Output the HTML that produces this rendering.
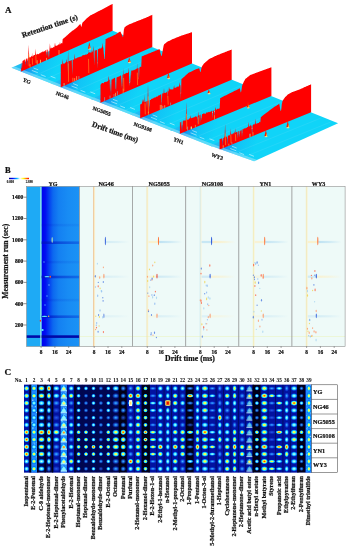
<!DOCTYPE html>
<html><head><meta charset="utf-8"><style>
html,body{margin:0;padding:0;background:#fff;width:348px;height:550px;overflow:hidden}
svg{display:block}
.b{font-family:"Liberation Serif","Times New Roman",serif;font-weight:bold;fill:#111;stroke:#111;stroke-width:0.22px}
</style></head><body>
<svg width="348" height="550" viewBox="0 0 348 550">
<defs>
<linearGradient id="cb" x1="0" x2="1" y1="0" y2="0"><stop offset="0" stop-color="#000080"/><stop offset="0.18" stop-color="#0000ff"/><stop offset="0.4" stop-color="#00c0ff"/><stop offset="0.55" stop-color="#ffffff"/><stop offset="0.72" stop-color="#ffff00"/><stop offset="0.85" stop-color="#ff8000"/><stop offset="1" stop-color="#ff0000"/></linearGradient>
<linearGradient id="sg" gradientUnits="userSpaceOnUse" x1="0" y1="0" x2="39.7" y2="15.56"><stop offset="0" stop-color="#22c8f4"/><stop offset="0.2" stop-color="#1cb8f2"/><stop offset="0.245" stop-color="#0c78e6"/><stop offset="0.4" stop-color="#149ef0"/><stop offset="0.6" stop-color="#12c4f6"/><stop offset="1" stop-color="#10d4f8"/></linearGradient>
<linearGradient id="ygb" x1="0" x2="1" y1="0" y2="0"><stop offset="0" stop-color="#0000f0"/><stop offset="0.1" stop-color="#0010f0"/><stop offset="0.2" stop-color="#0440f0"/><stop offset="0.3" stop-color="#0c68f0"/><stop offset="0.45" stop-color="#1480f2"/><stop offset="0.7" stop-color="#188cf4"/><stop offset="1" stop-color="#1a92f5"/></linearGradient><linearGradient id="hl" x1="0" x2="1" y1="0" y2="0"><stop offset="0" stop-color="#0010c0" stop-opacity="0.9"/><stop offset="0.5" stop-color="#0020c8" stop-opacity="0.6"/><stop offset="1" stop-color="#0030d0" stop-opacity="0.45"/></linearGradient>
</defs>
<text x="5" y="12.9" class="b" font-size="9">A</text>
<linearGradient id="sg0" href="#sg" gradientTransform="translate(11.5,67.8)"/>
<polygon points="11.5,67.8 53.1,84.2 139.6,41.7 103.6,27.1" fill="url(#sg0)"/>
<line x1="33.3" y1="76.4" x2="122.1" y2="36.7" stroke="#7fdcf8" stroke-width="0.5" opacity="0.35"/>
<line x1="43.3" y1="80.2" x2="132.0" y2="40.6" stroke="#7fdcf8" stroke-width="0.5" opacity="0.35"/>
<polygon points="11.5,67.8 53.1,84.2 56.3,82.8 14.7,66.4" fill="#9ae6fa" opacity="0.55"/>
<line x1="31.8" y1="70.4" x2="37.8" y2="72.7" stroke="#e8fbff" stroke-width="0.7" opacity="0.8"/>
<line x1="40.8" y1="74.7" x2="45.6" y2="76.5" stroke="#e8fbff" stroke-width="0.7" opacity="0.8"/>
<line x1="33.5" y1="68.0" x2="38.2" y2="69.8" stroke="#e8fbff" stroke-width="0.7" opacity="0.8"/>
<line x1="50.7" y1="76.3" x2="55.5" y2="78.1" stroke="#e8fbff" stroke-width="0.7" opacity="0.8"/>
<polygon points="21.1,71.6 21.1,61.3 21.6,68.3 22.0,68.3 22.5,61.1 22.9,60.8 23.4,60.2 23.8,60.4 24.3,59.6 24.8,59.4 25.2,65.4 25.7,59.4 26.1,59.4 26.6,58.3 27.0,58.4 27.5,58.5 28.0,66.8 28.4,57.7 28.9,58.0 29.3,57.6 29.8,57.0 30.2,57.5 30.7,56.9 31.2,56.5 31.6,56.0 32.1,56.5 32.5,56.6 33.0,56.5 33.5,55.4 33.9,55.1 34.4,55.1 34.8,55.1 35.3,54.6 35.7,54.8 36.2,55.1 36.7,54.2 37.1,53.8 37.6,54.1 38.0,54.4 38.5,54.0 38.9,53.9 39.4,53.6 39.9,53.1 40.3,53.3 40.8,52.5 41.2,52.0 41.7,52.5 42.1,52.2 42.6,51.3 43.1,52.0 43.5,51.7 44.0,51.1 44.4,51.6 44.9,51.0 45.3,50.1 45.8,50.4 46.3,56.1 46.7,49.7 47.2,49.5 47.6,49.8 48.1,58.3 48.5,49.6 49.0,58.1 49.5,49.3 49.9,43.3 50.4,48.3 50.8,48.6 51.3,48.2 51.8,47.4 52.2,47.7 52.7,48.0 53.1,47.5 53.6,46.7 54.0,47.4 54.5,46.6 55.0,42.3 55.4,45.7 55.9,45.8 56.3,46.0 56.8,45.4 57.2,45.2 57.7,45.6 58.2,44.5 58.6,44.5 59.1,44.4 59.5,44.5 60.0,41.7 60.4,44.4 60.9,43.4 61.4,43.2 61.8,43.0 62.3,43.6 62.7,39.1 63.2,38.7 63.6,38.3 64.1,38.0 64.6,37.6 65.0,37.2 65.5,36.8 65.9,36.4 66.4,36.0 66.8,35.6 67.3,35.2 67.8,34.7 68.2,34.3 68.7,33.9 69.1,33.5 69.6,33.1 70.1,32.7 70.5,32.3 71.0,31.9 71.4,31.6 71.9,31.2 72.3,30.8 72.8,30.5 73.3,30.2 73.7,29.9 74.2,29.6 74.6,29.3 75.1,28.9 75.5,28.6 76.0,28.3 76.5,27.8 76.9,27.4 77.4,26.9 77.8,26.5 78.3,26.0 78.7,25.6 79.2,25.1 79.7,24.6 80.1,24.1 80.6,24.5 81.0,26.4 81.5,26.8 81.9,24.7 82.4,22.7 82.9,22.3 83.3,21.8 83.8,21.4 84.2,20.9 84.7,20.5 85.2,20.0 85.6,19.5 86.1,19.1 86.5,18.6 87.0,18.2 87.4,17.8 87.9,17.4 88.4,17.0 88.8,16.7 89.3,16.3 89.7,15.9 90.2,15.6 90.6,15.3 91.1,15.1 91.6,14.9 92.0,14.6 92.5,14.4 92.9,14.1 93.4,13.9 93.8,13.7 94.3,13.4 94.8,13.2 95.2,13.0 95.7,12.7 96.1,12.5 96.6,12.3 97.0,12.0 97.5,11.8 98.0,11.6 98.4,11.3 98.9,11.1 99.3,10.9 99.8,10.6 100.2,10.4 100.7,10.1 101.2,9.9 101.6,9.7 102.1,9.4 102.5,9.2 103.0,8.9 103.5,8.7 103.9,8.5 104.4,8.2 104.8,8.0 105.3,7.7 105.7,7.5 106.2,7.2 106.7,7.0 107.1,6.8 107.6,6.5 108.0,6.3 108.5,6.0 108.9,5.8 109.4,5.6 109.9,5.3 110.3,5.1 110.8,4.8 111.2,4.6 111.7,4.4 112.1,4.1 112.6,3.9 112.6,30.7" fill="#ff0000"/>
<polygon points="28.0,63.2 28.7,44.6 29.4,63.2" fill="#ff0000"/>
<line x1="29.2" y1="66.2" x2="28.9" y2="54.0" stroke="#ffe040" stroke-width="0.4"/>
<polygon points="34.9,60.1 35.6,48.7 36.3,60.1" fill="#ff0000"/>
<line x1="36.1" y1="63.1" x2="35.8" y2="55.3" stroke="#ffe040" stroke-width="0.4"/>
<polygon points="31.4,61.7 32.1,52.7 32.8,61.7" fill="#ff0000"/>
<line x1="32.6" y1="64.7" x2="32.3" y2="58.3" stroke="#ffe040" stroke-width="0.4"/>
<line x1="30.1" y1="67.6" x2="30.1" y2="64.1" stroke="#ffd040" stroke-width="0.5"/>
<line x1="59.0" y1="54.7" x2="59.0" y2="50.1" stroke="#ffff80" stroke-width="0.5"/>
<line x1="40.5" y1="62.9" x2="40.5" y2="59.9" stroke="#ffff80" stroke-width="0.5"/>
<line x1="46.5" y1="60.3" x2="46.5" y2="57.9" stroke="#ffff80" stroke-width="0.5"/>
<line x1="37.2" y1="64.4" x2="37.2" y2="60.2" stroke="#ffff80" stroke-width="0.5"/>
<line x1="40.4" y1="63.0" x2="40.4" y2="59.7" stroke="#ffd040" stroke-width="0.5"/>
<polygon points="87.9,48.9 89.3,41.9 90.9,48.9" fill="#ff1800"/>
<polygon points="89.7,48.9 89.6,45.4 90.9,48.9" fill="#ffe030"/>
<ellipse cx="89.5" cy="49.0" rx="1.6" ry="0.6" fill="#f0ffb0" opacity="0.8"/>
<text x="26.9" y="82.80000000000001" class="b" font-size="5.4" text-anchor="middle" transform="rotate(20 26.9 80.9)">YG</text>
<linearGradient id="sg1" href="#sg" gradientTransform="translate(51.2,83.4)"/>
<polygon points="51.2,83.4 92.8,99.8 179.3,58.0 143.3,43.4" fill="url(#sg1)"/>
<line x1="73.0" y1="91.9" x2="161.8" y2="53.0" stroke="#7fdcf8" stroke-width="0.5" opacity="0.35"/>
<line x1="83.0" y1="95.8" x2="171.7" y2="56.9" stroke="#7fdcf8" stroke-width="0.5" opacity="0.35"/>
<polygon points="51.2,83.4 92.8,99.8 96.0,98.4 54.4,82.0" fill="#9ae6fa" opacity="0.55"/>
<line x1="71.5" y1="86.0" x2="77.5" y2="88.3" stroke="#e8fbff" stroke-width="0.7" opacity="0.8"/>
<line x1="80.5" y1="90.3" x2="85.3" y2="92.2" stroke="#e8fbff" stroke-width="0.7" opacity="0.8"/>
<line x1="73.2" y1="83.6" x2="77.9" y2="85.5" stroke="#e8fbff" stroke-width="0.7" opacity="0.8"/>
<line x1="90.4" y1="91.9" x2="95.2" y2="93.8" stroke="#e8fbff" stroke-width="0.7" opacity="0.8"/>
<polygon points="60.8,87.2 60.8,64.5 61.3,63.9 61.7,64.3 62.2,64.6 62.6,59.0 63.1,63.8 63.5,63.4 64.0,63.4 64.5,63.6 64.9,63.5 65.4,62.5 65.8,62.3 66.3,61.8 66.7,58.9 67.2,62.0 67.7,62.1 68.1,75.8 68.6,61.0 69.0,60.9 69.5,60.7 70.0,61.3 70.4,60.7 70.9,60.2 71.3,60.0 71.8,60.6 72.2,74.8 72.7,59.7 73.2,59.3 73.6,59.9 74.1,59.8 74.5,53.5 75.0,59.4 75.4,58.1 75.9,58.8 76.4,58.3 76.8,58.1 77.3,57.9 77.7,57.2 78.2,57.1 78.6,57.4 79.1,57.3 79.6,56.8 80.0,57.1 80.5,57.0 80.9,55.9 81.4,56.4 81.8,56.5 82.3,55.5 82.8,55.2 83.2,55.3 83.7,55.0 84.1,55.2 84.6,55.1 85.0,54.9 85.5,54.6 86.0,54.5 86.4,54.4 86.9,54.4 87.3,54.1 87.8,54.1 88.2,52.9 88.7,52.9 89.2,52.6 89.6,52.3 90.1,52.6 90.5,52.5 91.0,52.5 91.5,52.5 91.9,49.8 92.4,52.0 92.8,51.8 93.3,45.8 93.7,51.2 94.2,64.9 94.7,50.2 95.1,50.9 95.6,49.9 96.0,50.2 96.5,50.1 96.9,50.1 97.4,68.8 97.9,49.4 98.3,49.2 98.8,49.1 99.2,48.7 99.7,48.6 100.1,47.9 100.6,48.7 101.1,48.5 101.5,47.7 102.0,47.2 102.4,42.7 102.9,46.9 103.3,47.7 103.8,53.3 104.3,59.1 104.7,58.9 105.2,49.0 105.6,39.1 106.1,38.9 106.6,38.7 107.0,38.5 107.5,38.3 107.9,38.0 108.4,37.8 108.8,37.6 109.3,37.4 109.8,37.2 110.2,37.0 110.7,36.8 111.1,36.6 111.6,36.4 112.0,36.2 112.5,35.9 113.0,35.7 113.4,35.5 113.9,35.3 114.3,35.1 114.8,34.9 115.2,34.7 115.7,34.4 116.2,34.1 116.6,33.8 117.1,33.5 117.5,33.2 118.0,32.9 118.4,32.6 118.9,32.3 119.4,32.0 119.8,31.7 120.3,31.4 120.7,32.2 121.2,33.2 121.6,34.2 122.1,35.3 122.6,36.3 123.0,37.4 123.5,33.4 123.9,29.5 124.4,28.0 124.8,26.9 125.3,26.7 125.8,26.4 126.2,26.1 126.7,25.8 127.1,25.6 127.6,25.3 128.1,25.0 128.5,24.7 129.0,24.5 129.4,24.3 129.9,24.1 130.3,23.9 130.8,23.7 131.3,23.5 131.7,23.4 132.2,23.2 132.6,23.0 133.1,22.8 133.5,22.6 134.0,22.4 134.5,22.2 134.9,22.1 135.4,21.9 135.8,21.7 136.3,21.5 136.7,21.3 137.2,21.1 137.7,20.9 138.1,20.8 138.6,20.6 139.0,20.4 139.5,20.2 139.9,20.1 140.4,19.9 140.9,19.7 141.3,19.5 141.8,19.3 142.2,19.2 142.7,19.0 143.2,18.8 143.6,18.6 144.1,18.4 144.5,18.3 145.0,18.1 145.4,17.9 145.9,17.7 146.4,17.5 146.8,17.3 147.3,17.1 147.7,16.9 148.2,16.7 148.6,16.5 149.1,16.2 149.6,16.0 150.0,15.8 150.5,15.6 150.9,15.4 151.4,15.2 151.8,14.9 152.3,14.7 152.3,47.0" fill="#ff0000"/>
<polygon points="67.4,78.9 68.1,49.9 68.8,78.9" fill="#ff0000"/>
<line x1="68.6" y1="81.9" x2="68.3" y2="63.5" stroke="#ffe040" stroke-width="0.4"/>
<polygon points="87.5,70.1 88.2,48.1 89.0,70.1" fill="#ff0000"/>
<line x1="88.8" y1="73.1" x2="88.5" y2="58.9" stroke="#ffe040" stroke-width="0.4"/>
<line x1="76.6" y1="80.2" x2="76.6" y2="76.2" stroke="#ffff80" stroke-width="0.5"/>
<line x1="72.9" y1="81.8" x2="72.9" y2="77.8" stroke="#ffd040" stroke-width="0.5"/>
<line x1="64.3" y1="85.6" x2="64.3" y2="83.2" stroke="#ffd040" stroke-width="0.5"/>
<line x1="78.9" y1="79.2" x2="78.9" y2="76.1" stroke="#60e0ff" stroke-width="0.5"/>
<line x1="74.7" y1="81.1" x2="74.7" y2="78.1" stroke="#ffff80" stroke-width="0.5"/>
<line x1="63.9" y1="85.8" x2="63.9" y2="83.2" stroke="#60e0ff" stroke-width="0.5"/>
<polygon points="127.8,62.5 129.2,57.0 130.8,62.5" fill="#ff1800"/>
<polygon points="129.6,62.5 129.5,59.8 130.8,62.5" fill="#ffe030"/>
<ellipse cx="129.4" cy="62.6" rx="1.6" ry="0.6" fill="#f0ffb0" opacity="0.8"/>
<text x="62.4" y="97.2" class="b" font-size="5.4" text-anchor="middle" transform="rotate(20 62.4 95.3)">NG46</text>
<linearGradient id="sg2" href="#sg" gradientTransform="translate(90.9,98.9)"/>
<polygon points="90.9,98.9 132.5,115.3 219.0,74.4 183.0,59.8" fill="url(#sg2)"/>
<line x1="112.7" y1="107.5" x2="201.5" y2="69.3" stroke="#7fdcf8" stroke-width="0.5" opacity="0.35"/>
<line x1="122.7" y1="111.4" x2="211.4" y2="73.2" stroke="#7fdcf8" stroke-width="0.5" opacity="0.35"/>
<polygon points="90.9,98.9 132.5,115.3 135.7,113.9 94.1,97.5" fill="#9ae6fa" opacity="0.55"/>
<line x1="111.2" y1="101.6" x2="117.2" y2="103.9" stroke="#e8fbff" stroke-width="0.7" opacity="0.8"/>
<line x1="120.2" y1="105.9" x2="125.0" y2="107.8" stroke="#e8fbff" stroke-width="0.7" opacity="0.8"/>
<line x1="112.9" y1="99.3" x2="117.6" y2="101.1" stroke="#e8fbff" stroke-width="0.7" opacity="0.8"/>
<line x1="130.1" y1="107.5" x2="134.9" y2="109.4" stroke="#e8fbff" stroke-width="0.7" opacity="0.8"/>
<polygon points="100.5,102.7 100.5,84.6 101.0,84.5 101.4,83.6 101.9,83.3 102.3,83.1 102.8,83.1 103.2,83.3 103.7,83.3 104.2,82.2 104.6,82.0 105.1,82.1 105.5,81.8 106.0,82.1 106.4,82.1 106.9,81.2 107.4,81.4 107.8,81.1 108.3,80.6 108.7,75.6 109.2,80.1 109.7,79.7 110.1,92.8 110.6,79.3 111.0,96.2 111.5,79.5 111.9,79.6 112.4,79.6 112.9,78.4 113.3,78.7 113.8,78.5 114.2,77.9 114.7,77.8 115.1,77.7 115.6,88.3 116.1,90.2 116.5,77.7 117.0,77.3 117.4,76.7 117.9,77.2 118.3,76.6 118.8,76.8 119.3,76.2 119.7,76.2 120.2,75.4 120.6,75.5 121.1,75.9 121.5,88.6 122.0,74.4 122.5,74.9 122.9,90.6 123.4,74.1 123.8,74.4 124.3,73.8 124.7,74.3 125.2,73.6 125.7,73.5 126.1,72.7 126.6,73.1 127.0,72.9 127.5,73.1 128.0,72.6 128.4,72.3 128.9,67.4 129.3,86.0 129.8,82.1 130.2,71.1 130.7,83.7 131.2,70.9 131.6,70.3 132.1,70.9 132.5,70.1 133.0,70.8 133.4,70.2 133.9,69.8 134.4,70.2 134.8,69.6 135.3,69.7 135.7,69.1 136.2,68.8 136.6,68.8 137.1,68.8 137.6,68.1 138.0,68.4 138.5,67.7 138.9,81.0 139.4,67.1 139.8,67.4 140.3,66.8 140.8,66.8 141.2,67.1 141.7,56.4 142.1,56.2 142.6,56.0 143.0,55.9 143.5,55.7 144.0,55.5 144.4,55.3 144.9,55.1 145.3,54.9 145.8,54.7 146.2,54.5 146.7,54.4 147.2,54.2 147.6,54.0 148.1,53.8 148.5,53.6 149.0,53.4 149.5,53.2 149.9,53.0 150.4,52.9 150.8,52.7 151.3,52.5 151.7,52.3 152.2,52.1 152.7,51.9 153.1,51.7 153.6,51.6 154.0,51.4 154.5,51.2 154.9,51.0 155.4,50.8 155.9,50.6 156.3,50.4 156.8,50.2 157.2,50.1 157.7,49.9 158.1,49.7 158.6,49.5 159.1,49.3 159.5,49.1 160.0,51.0 160.4,52.9 160.9,54.4 161.3,55.9 161.8,55.7 162.3,53.0 162.7,50.4 163.2,48.0 163.6,45.8 164.1,44.3 164.6,43.9 165.0,43.6 165.5,43.2 165.9,42.9 166.4,42.5 166.8,42.1 167.3,41.8 167.8,41.6 168.2,41.3 168.7,41.1 169.1,40.9 169.6,40.7 170.0,40.4 170.5,40.2 171.0,40.0 171.4,39.8 171.9,39.6 172.3,39.3 172.8,39.1 173.2,38.9 173.7,38.8 174.2,38.6 174.6,38.4 175.1,38.2 175.5,38.0 176.0,37.8 176.4,37.6 176.9,37.5 177.4,37.3 177.8,37.1 178.3,36.9 178.7,36.7 179.2,36.5 179.6,36.3 180.1,36.2 180.6,36.0 181.0,35.8 181.5,35.6 181.9,35.5 182.4,35.3 182.9,35.2 183.3,35.0 183.8,34.9 184.2,34.7 184.7,34.6 185.1,34.4 185.6,34.3 186.1,34.1 186.5,34.0 187.0,33.8 187.4,33.7 187.9,33.5 188.3,33.4 188.8,33.2 189.3,33.1 189.7,32.9 190.2,32.8 190.6,32.6 191.1,32.5 191.5,32.3 192.0,32.2 192.0,63.4" fill="#ff0000"/>
<polygon points="122.7,87.9 123.4,67.9 124.1,87.9" fill="#ff0000"/>
<line x1="123.9" y1="90.9" x2="123.6" y2="77.9" stroke="#ffe040" stroke-width="0.4"/>
<polygon points="136.4,82.0 137.1,63.0 137.8,82.0" fill="#ff0000"/>
<line x1="137.6" y1="85.0" x2="137.3" y2="72.6" stroke="#ffe040" stroke-width="0.4"/>
<line x1="114.0" y1="96.9" x2="114.0" y2="94.1" stroke="#60e0ff" stroke-width="0.5"/>
<line x1="123.2" y1="93.0" x2="123.2" y2="88.7" stroke="#ffd040" stroke-width="0.5"/>
<line x1="117.4" y1="95.4" x2="117.4" y2="91.2" stroke="#60e0ff" stroke-width="0.5"/>
<line x1="110.0" y1="98.6" x2="110.0" y2="95.6" stroke="#60e0ff" stroke-width="0.5"/>
<line x1="104.6" y1="101.0" x2="104.6" y2="97.2" stroke="#60e0ff" stroke-width="0.5"/>
<line x1="115.5" y1="96.3" x2="115.5" y2="92.8" stroke="#ffff80" stroke-width="0.5"/>
<polygon points="167.0,78.5 168.4,72.5 170.0,78.5" fill="#ff1800"/>
<polygon points="168.8,78.5 168.7,75.5 170.0,78.5" fill="#ffe030"/>
<ellipse cx="168.6" cy="78.6" rx="1.6" ry="0.6" fill="#f0ffb0" opacity="0.8"/>
<text x="101.9" y="113.0" class="b" font-size="5.4" text-anchor="middle" transform="rotate(20 101.9 111.1)">NG5055</text>
<linearGradient id="sg3" href="#sg" gradientTransform="translate(130.6,114.5)"/>
<polygon points="130.6,114.5 172.2,130.9 258.7,90.7 222.7,76.1" fill="url(#sg3)"/>
<line x1="152.4" y1="123.0" x2="241.2" y2="85.6" stroke="#7fdcf8" stroke-width="0.5" opacity="0.35"/>
<line x1="162.4" y1="126.9" x2="251.1" y2="89.5" stroke="#7fdcf8" stroke-width="0.5" opacity="0.35"/>
<polygon points="130.6,114.5 172.2,130.9 175.4,129.5 133.8,113.1" fill="#9ae6fa" opacity="0.55"/>
<line x1="150.9" y1="117.2" x2="156.9" y2="119.6" stroke="#e8fbff" stroke-width="0.7" opacity="0.8"/>
<line x1="159.9" y1="121.5" x2="164.7" y2="123.4" stroke="#e8fbff" stroke-width="0.7" opacity="0.8"/>
<line x1="152.6" y1="114.9" x2="157.3" y2="116.8" stroke="#e8fbff" stroke-width="0.7" opacity="0.8"/>
<line x1="169.8" y1="123.1" x2="174.6" y2="125.0" stroke="#e8fbff" stroke-width="0.7" opacity="0.8"/>
<polygon points="140.2,118.3 140.2,104.1 140.7,104.4 141.1,104.2 141.6,103.7 142.0,103.0 142.5,98.9 142.9,102.5 143.4,99.1 143.9,102.0 144.3,101.9 144.8,102.4 145.2,102.3 145.7,101.5 146.1,101.2 146.6,100.9 147.1,110.0 147.5,101.2 148.0,100.4 148.4,100.8 148.9,100.0 149.4,110.5 149.8,99.7 150.3,99.9 150.7,99.9 151.2,99.2 151.6,98.7 152.1,98.7 152.6,98.8 153.0,98.0 153.5,98.6 153.9,97.6 154.4,97.9 154.8,96.9 155.3,97.7 155.8,97.1 156.2,97.1 156.7,96.2 157.1,96.7 157.6,96.3 158.0,96.2 158.5,95.4 159.0,94.9 159.4,95.6 159.9,95.1 160.3,94.3 160.8,94.7 161.2,93.8 161.7,105.8 162.2,93.5 162.6,93.4 163.1,93.0 163.5,93.7 164.0,88.1 164.4,93.0 164.9,92.9 165.4,93.0 165.8,92.4 166.3,92.5 166.7,92.1 167.2,91.2 167.7,102.6 168.1,91.3 168.6,91.3 169.0,86.6 169.5,90.1 169.9,88.6 170.4,89.6 170.9,89.6 171.3,89.8 171.8,88.9 172.2,89.5 172.7,89.2 173.1,89.4 173.6,88.1 174.1,84.9 174.5,88.2 175.0,87.4 175.4,88.0 175.9,87.5 176.3,87.6 176.8,86.8 177.3,86.5 177.7,86.8 178.2,86.6 178.6,86.7 179.1,85.7 179.5,82.1 180.0,85.7 180.5,84.9 180.9,99.0 181.4,79.2 181.8,78.8 182.3,78.4 182.7,78.0 183.2,77.6 183.7,77.2 184.1,76.8 184.6,76.4 185.0,75.9 185.5,75.5 186.0,75.1 186.4,74.7 186.9,74.3 187.3,73.9 187.8,73.5 188.2,73.1 188.7,72.8 189.2,72.6 189.6,72.3 190.1,72.1 190.5,71.9 191.0,71.7 191.4,71.4 191.9,71.2 192.4,71.0 192.8,70.8 193.3,70.5 193.7,70.3 194.2,70.1 194.6,69.9 195.1,69.6 195.6,69.5 196.0,69.3 196.5,69.1 196.9,69.0 197.4,68.8 197.8,68.7 198.3,68.5 198.8,68.3 199.2,68.2 199.7,70.0 200.1,71.8 200.6,72.0 201.0,69.9 201.5,67.7 202.0,66.4 202.4,65.8 202.9,65.1 203.3,64.4 203.8,63.8 204.2,63.3 204.7,62.9 205.2,62.5 205.6,62.1 206.1,61.7 206.5,61.3 207.0,60.9 207.5,60.5 207.9,60.1 208.4,59.7 208.8,59.3 209.3,59.0 209.7,58.8 210.2,58.6 210.7,58.3 211.1,58.1 211.6,57.9 212.0,57.7 212.5,57.4 212.9,57.2 213.4,57.0 213.9,56.8 214.3,56.5 214.8,56.3 215.2,56.1 215.7,55.9 216.1,55.7 216.6,55.5 217.1,55.3 217.5,55.1 218.0,54.9 218.4,54.7 218.9,54.6 219.3,54.4 219.8,54.2 220.3,54.0 220.7,53.8 221.2,53.6 221.6,53.5 222.1,53.3 222.6,53.1 223.0,52.9 223.5,52.7 223.9,52.6 224.4,52.4 224.8,52.2 225.3,52.0 225.8,51.8 226.2,51.7 226.7,51.5 227.1,51.3 227.6,51.1 228.0,51.0 228.5,50.8 229.0,50.6 229.4,50.5 229.9,50.3 230.3,50.1 230.8,49.9 231.2,49.8 231.7,49.6 231.7,79.7" fill="#ff0000"/>
<polygon points="144.1,111.4 144.8,94.4 145.5,111.4" fill="#ff0000"/>
<line x1="145.3" y1="114.4" x2="145.0" y2="103.2" stroke="#ffe040" stroke-width="0.4"/>
<polygon points="147.3,110.0 148.0,84.0 148.7,110.0" fill="#ff0000"/>
<line x1="148.5" y1="113.0" x2="148.2" y2="96.4" stroke="#ffe040" stroke-width="0.4"/>
<polygon points="167.0,101.7 167.7,88.7 168.3,101.7" fill="#ff0000"/>
<line x1="168.2" y1="104.7" x2="167.8" y2="95.9" stroke="#ffe040" stroke-width="0.4"/>
<line x1="160.3" y1="109.8" x2="160.3" y2="104.9" stroke="#ffff80" stroke-width="0.5"/>
<line x1="148.4" y1="114.8" x2="148.4" y2="111.6" stroke="#ffd040" stroke-width="0.5"/>
<line x1="164.7" y1="107.9" x2="164.7" y2="105.2" stroke="#ffff80" stroke-width="0.5"/>
<line x1="161.7" y1="109.2" x2="161.7" y2="104.9" stroke="#ffff80" stroke-width="0.5"/>
<line x1="170.6" y1="105.5" x2="170.6" y2="102.6" stroke="#60e0ff" stroke-width="0.5"/>
<line x1="162.8" y1="108.8" x2="162.8" y2="106.0" stroke="#60e0ff" stroke-width="0.5"/>
<polygon points="207.4,93.6 208.8,89.6 210.4,93.6" fill="#ff1800"/>
<polygon points="209.2,93.6 209.1,91.6 210.4,93.6" fill="#ffe030"/>
<ellipse cx="209.0" cy="93.7" rx="1.6" ry="0.6" fill="#f0ffb0" opacity="0.8"/>
<text x="142.8" y="128.9" class="b" font-size="5.4" text-anchor="middle" transform="rotate(20 142.8 127)">NG9108</text>
<linearGradient id="sg4" href="#sg" gradientTransform="translate(170.3,130.0)"/>
<polygon points="170.3,130.0 211.9,146.4 298.4,107.0 262.4,92.4" fill="url(#sg4)"/>
<line x1="192.1" y1="138.6" x2="280.9" y2="101.9" stroke="#7fdcf8" stroke-width="0.5" opacity="0.35"/>
<line x1="202.1" y1="142.5" x2="290.8" y2="105.8" stroke="#7fdcf8" stroke-width="0.5" opacity="0.35"/>
<polygon points="170.3,130.0 211.9,146.4 215.1,145.1 173.5,128.7" fill="#9ae6fa" opacity="0.55"/>
<line x1="190.6" y1="132.8" x2="196.6" y2="135.2" stroke="#e8fbff" stroke-width="0.7" opacity="0.8"/>
<line x1="199.6" y1="137.1" x2="204.4" y2="139.0" stroke="#e8fbff" stroke-width="0.7" opacity="0.8"/>
<line x1="192.3" y1="130.5" x2="197.0" y2="132.4" stroke="#e8fbff" stroke-width="0.7" opacity="0.8"/>
<line x1="209.5" y1="138.8" x2="214.3" y2="140.6" stroke="#e8fbff" stroke-width="0.7" opacity="0.8"/>
<polygon points="179.9,133.8 179.9,122.3 180.4,122.3 180.8,122.0 181.3,131.1 181.7,121.7 182.2,121.1 182.6,131.5 183.1,120.5 183.6,120.8 184.0,120.2 184.5,121.0 184.9,119.9 185.4,120.7 185.8,120.4 186.3,119.5 186.8,120.3 187.2,119.3 187.7,119.9 188.1,119.7 188.6,119.6 189.1,118.4 189.5,118.3 190.0,118.7 190.4,114.9 190.9,118.3 191.3,117.7 191.8,118.4 192.3,117.6 192.7,117.9 193.2,117.3 193.6,117.8 194.1,116.7 194.5,117.6 195.0,116.5 195.5,116.8 195.9,116.0 196.4,116.8 196.8,116.7 197.3,116.2 197.7,124.9 198.2,115.4 198.7,115.5 199.1,115.1 199.6,115.4 200.0,123.2 200.5,114.6 200.9,114.4 201.4,120.5 201.9,114.7 202.3,114.1 202.8,113.9 203.2,113.5 203.7,113.4 204.1,113.5 204.6,113.6 205.1,113.9 205.5,113.6 206.0,113.5 206.4,112.5 206.9,112.3 207.3,112.4 207.8,112.6 208.3,112.3 208.7,111.8 209.2,112.2 209.6,111.9 210.1,111.6 210.6,112.1 211.0,111.4 211.5,111.0 211.9,110.6 212.4,118.3 212.8,110.8 213.3,110.5 213.8,110.9 214.2,109.7 214.7,116.0 215.1,109.4 215.6,107.1 216.0,109.4 216.5,109.9 217.0,108.8 217.4,108.7 217.9,108.7 218.3,109.1 218.8,108.5 219.2,108.7 219.7,107.8 220.2,98.1 220.6,97.9 221.1,97.7 221.5,97.4 222.0,97.2 222.4,97.0 222.9,96.8 223.4,96.5 223.8,96.3 224.3,96.1 224.7,95.8 225.2,95.6 225.7,95.4 226.1,95.2 226.6,94.9 227.0,94.7 227.5,94.5 227.9,94.2 228.4,94.0 228.9,93.8 229.3,93.6 229.8,93.3 230.2,93.1 230.7,92.9 231.1,92.6 231.6,92.4 232.1,92.2 232.5,92.0 233.0,91.7 233.4,91.5 233.9,91.3 234.3,91.1 234.8,90.8 235.3,90.6 235.7,90.4 236.2,90.2 236.6,89.9 237.1,89.7 237.5,89.5 238.0,89.3 238.5,89.0 238.9,88.8 239.4,88.5 239.8,88.2 240.3,90.3 240.7,92.4 241.2,91.4 241.7,88.6 242.1,85.7 242.6,84.4 243.0,83.5 243.5,82.5 243.9,81.6 244.4,80.7 244.9,79.8 245.3,78.9 245.8,78.6 246.2,78.2 246.7,77.9 247.2,77.5 247.6,77.1 248.1,76.8 248.5,76.4 249.0,76.0 249.4,75.7 249.9,75.3 250.4,75.0 250.8,74.8 251.3,74.7 251.7,74.5 252.2,74.3 252.6,74.2 253.1,74.0 253.6,73.8 254.0,73.7 254.5,73.5 254.9,73.3 255.4,73.1 255.8,73.0 256.3,72.8 256.8,72.6 257.2,72.5 257.7,72.3 258.1,72.1 258.6,72.0 259.0,71.8 259.5,71.6 260.0,71.5 260.4,71.3 260.9,71.1 261.3,71.0 261.8,70.8 262.2,70.6 262.7,70.5 263.2,70.3 263.6,70.1 264.1,70.0 264.5,69.8 265.0,69.6 265.5,69.5 265.9,69.3 266.4,69.1 266.8,69.0 267.3,68.8 267.7,68.6 268.2,68.5 268.7,68.3 269.1,68.1 269.6,68.0 270.0,67.8 270.5,67.6 270.9,67.5 271.4,67.3 271.4,96.0" fill="#ff0000"/>
<polygon points="185.6,126.2 186.3,102.2 187.0,126.2" fill="#ff0000"/>
<line x1="186.8" y1="129.2" x2="186.5" y2="113.8" stroke="#ffe040" stroke-width="0.4"/>
<polygon points="197.5,121.3 198.2,111.3 198.9,121.3" fill="#ff0000"/>
<line x1="198.7" y1="124.3" x2="198.4" y2="117.3" stroke="#ffe040" stroke-width="0.4"/>
<line x1="191.0" y1="129.2" x2="191.0" y2="126.6" stroke="#60e0ff" stroke-width="0.5"/>
<line x1="191.4" y1="129.1" x2="191.4" y2="126.4" stroke="#ffff80" stroke-width="0.5"/>
<line x1="195.4" y1="127.5" x2="195.4" y2="124.9" stroke="#ffd040" stroke-width="0.5"/>
<line x1="187.6" y1="130.6" x2="187.6" y2="126.6" stroke="#60e0ff" stroke-width="0.5"/>
<line x1="214.5" y1="119.5" x2="214.5" y2="115.2" stroke="#ffd040" stroke-width="0.5"/>
<line x1="191.4" y1="129.1" x2="191.4" y2="126.9" stroke="#ffff80" stroke-width="0.5"/>
<polygon points="246.6,107.7 248.0,101.2 249.6,107.7" fill="#ff1800"/>
<polygon points="248.4,107.7 248.3,104.5 249.6,107.7" fill="#ffe030"/>
<ellipse cx="248.2" cy="107.8" rx="1.6" ry="0.6" fill="#f0ffb0" opacity="0.8"/>
<text x="178.5" y="142.70000000000002" class="b" font-size="5.4" text-anchor="middle" transform="rotate(20 178.5 140.8)">YN1</text>
<linearGradient id="sg5" href="#sg" gradientTransform="translate(210.0,145.6)"/>
<polygon points="210.0,145.6 254.1,161.2 338.1,123.3 302.1,108.7" fill="url(#sg5)"/>
<line x1="231.8" y1="154.2" x2="320.6" y2="118.2" stroke="#7fdcf8" stroke-width="0.5" opacity="0.35"/>
<line x1="241.8" y1="158.0" x2="330.5" y2="122.1" stroke="#7fdcf8" stroke-width="0.5" opacity="0.35"/>
<polygon points="210.0,145.6 254.1,161.2 257.3,159.9 213.2,144.3" fill="#9ae6fa" opacity="0.55"/>
<line x1="230.3" y1="148.5" x2="236.3" y2="150.8" stroke="#e8fbff" stroke-width="0.7" opacity="0.8"/>
<line x1="239.3" y1="152.7" x2="244.1" y2="154.6" stroke="#e8fbff" stroke-width="0.7" opacity="0.8"/>
<line x1="232.0" y1="146.2" x2="236.7" y2="148.1" stroke="#e8fbff" stroke-width="0.7" opacity="0.8"/>
<line x1="249.2" y1="154.4" x2="254.0" y2="156.3" stroke="#e8fbff" stroke-width="0.7" opacity="0.8"/>
<polygon points="219.6,149.4 219.6,139.0 220.1,139.3 220.5,138.8 221.0,139.1 221.4,138.2 221.9,138.6 222.3,138.4 222.8,146.3 223.3,137.7 223.7,137.9 224.2,137.7 224.6,136.8 225.1,136.6 225.5,136.5 226.0,136.9 226.5,136.6 226.9,136.8 227.4,145.0 227.8,135.8 228.3,135.6 228.8,135.6 229.2,135.7 229.7,134.7 230.1,135.5 230.6,134.4 231.0,135.0 231.5,134.1 232.0,133.7 232.4,134.4 232.9,133.2 233.3,133.4 233.8,133.3 234.2,131.3 234.7,133.5 235.2,133.1 235.6,133.0 236.1,132.1 236.5,132.2 237.0,131.8 237.4,131.8 237.9,138.7 238.4,130.8 238.8,131.2 239.3,131.1 239.7,137.6 240.2,130.9 240.6,130.6 241.1,130.6 241.6,129.5 242.0,137.0 242.5,129.4 242.9,128.9 243.4,129.4 243.8,128.5 244.3,128.8 244.8,128.1 245.2,128.8 245.7,127.7 246.1,128.1 246.6,128.0 247.0,127.1 247.5,127.0 248.0,127.3 248.4,121.8 248.9,127.1 249.3,126.3 249.8,126.3 250.3,124.2 250.7,125.9 251.2,125.3 251.6,126.2 252.1,134.9 252.5,125.8 253.0,124.7 253.5,124.3 253.9,124.5 254.4,124.2 254.8,124.4 255.3,118.6 255.7,123.4 256.2,124.2 256.7,123.3 257.1,123.7 257.6,122.9 258.0,123.1 258.5,122.9 258.9,123.0 259.4,121.8 259.9,122.0 260.3,122.2 260.8,117.2 261.2,116.9 261.7,116.5 262.1,116.1 262.6,115.7 263.1,115.3 263.5,115.0 264.0,114.6 264.4,114.3 264.9,113.9 265.4,113.6 265.8,113.2 266.3,112.9 266.7,112.6 267.2,112.2 267.6,111.9 268.1,111.5 268.6,111.2 269.0,110.8 269.5,110.5 269.9,110.1 270.4,109.8 270.8,109.5 271.3,109.1 271.8,108.8 272.2,108.4 272.7,108.1 273.1,107.7 273.6,107.4 274.0,107.1 274.5,106.8 275.0,106.6 275.4,106.3 275.9,106.0 276.3,105.7 276.8,105.4 277.2,105.1 277.7,104.9 278.2,104.6 278.6,104.3 279.1,103.4 279.5,104.9 280.0,108.0 280.4,110.2 280.9,111.2 281.4,108.2 281.8,104.2 282.3,101.9 282.7,100.6 283.2,100.0 283.6,99.3 284.1,98.6 284.6,98.0 285.0,97.3 285.5,96.8 285.9,96.4 286.4,95.9 286.9,95.4 287.3,95.0 287.8,94.6 288.2,94.3 288.7,94.0 289.1,93.8 289.6,93.5 290.1,93.3 290.5,93.0 291.0,92.8 291.4,92.5 291.9,92.3 292.3,92.0 292.8,91.9 293.3,91.7 293.7,91.5 294.2,91.4 294.6,91.2 295.1,91.0 295.5,90.9 296.0,90.7 296.5,90.5 296.9,90.4 297.4,90.2 297.8,90.0 298.3,89.9 298.7,89.7 299.2,89.5 299.7,89.4 300.1,89.2 300.6,89.0 301.0,88.8 301.5,88.6 301.9,88.4 302.4,88.2 302.9,88.0 303.3,87.8 303.8,87.5 304.2,87.3 304.7,87.1 305.2,86.9 305.6,86.7 306.1,86.5 306.5,86.3 307.0,86.1 307.4,85.9 307.9,85.7 308.4,85.5 308.8,85.3 309.3,85.1 309.7,84.9 310.2,84.7 310.6,84.4 311.1,84.2 311.1,112.3" fill="#ff0000"/>
<polygon points="224.4,142.2 225.1,124.2 225.8,142.2" fill="#ff0000"/>
<line x1="225.6" y1="145.2" x2="225.3" y2="133.4" stroke="#ffe040" stroke-width="0.4"/>
<polygon points="229.9,140.0 230.6,128.0 231.3,140.0" fill="#ff0000"/>
<line x1="231.1" y1="143.0" x2="230.8" y2="134.8" stroke="#ffe040" stroke-width="0.4"/>
<polygon points="234.5,138.1 235.2,128.1 235.9,138.1" fill="#ff0000"/>
<line x1="235.7" y1="141.1" x2="235.4" y2="134.1" stroke="#ffe040" stroke-width="0.4"/>
<line x1="250.3" y1="137.0" x2="250.3" y2="133.7" stroke="#ffd040" stroke-width="0.5"/>
<line x1="249.7" y1="137.2" x2="249.7" y2="133.8" stroke="#60e0ff" stroke-width="0.5"/>
<line x1="223.2" y1="147.9" x2="223.2" y2="145.3" stroke="#ffff80" stroke-width="0.5"/>
<line x1="253.0" y1="135.9" x2="253.0" y2="132.2" stroke="#ffd040" stroke-width="0.5"/>
<line x1="231.9" y1="144.4" x2="231.9" y2="142.4" stroke="#60e0ff" stroke-width="0.5"/>
<line x1="228.8" y1="145.7" x2="228.8" y2="143.7" stroke="#ffd040" stroke-width="0.5"/>
<polygon points="286.3,127.6 287.7,120.6 289.3,127.6" fill="#ff1800"/>
<polygon points="288.1,127.6 288.0,124.2 289.3,127.6" fill="#ffe030"/>
<ellipse cx="287.9" cy="127.7" rx="1.6" ry="0.6" fill="#f0ffb0" opacity="0.8"/>
<polygon points="264.4,136.5 265.8,130.0 267.4,136.5" fill="#ff1800"/>
<polygon points="266.2,136.5 266.1,133.3 267.4,136.5" fill="#ffe030"/>
<ellipse cx="266.0" cy="136.6" rx="1.6" ry="0.6" fill="#f0ffb0" opacity="0.8"/>
<text x="217.2" y="158.3" class="b" font-size="5.4" text-anchor="middle" transform="rotate(20 217.2 156.4)">WY3</text>
<text x="49.8" y="28.6" class="b" font-size="7.7" text-anchor="middle" transform="rotate(-18.5 49.8 26.4)">Retention time (s)</text>
<text x="115.2" y="134.6" class="b" font-size="7.6" text-anchor="middle" transform="rotate(19.5 115.2 132.2)">Drift time (ms)</text>
<text x="5" y="173" class="b" font-size="8.5">B</text>
<rect x="9" y="177.8" width="20" height="1.4" fill="url(#cb)"/>
<text x="10.4" y="182.6" class="b" font-size="3.2" text-anchor="middle" style="stroke-width:0.1px">0.000</text>
<text x="29.3" y="182.6" class="b" font-size="3.2" text-anchor="middle" style="stroke-width:0.1px">2.890</text>
<rect x="26.5" y="186.5" width="53.1" height="160.0" fill="#1eaaf5"/>
<rect x="41.6" y="186.5" width="38.0" height="160.0" fill="url(#ygb)"/>
<rect x="26.5" y="335.3" width="53.1" height="2.6" fill="#0008a8"/>
<rect x="40.3" y="186.5" width="1.1" height="160.0" fill="#a8f0e0"/>
<rect x="41.6" y="241.4" width="38.0" height="2.6" fill="url(#hl)" opacity="0.85"/>
<rect x="41.6" y="275.7" width="38.0" height="2.6" fill="url(#hl)" opacity="0.85"/>
<rect x="41.6" y="315.40000000000003" width="38.0" height="2.6" fill="url(#hl)" opacity="0.85"/>
<rect x="41.6" y="260.8" width="38.0" height="2.6" fill="url(#hl)" opacity="0.21"/>
<rect x="41.6" y="298.8" width="38.0" height="2.6" fill="url(#hl)" opacity="0.21"/>
<rect x="41.6" y="223.8" width="38.0" height="2.6" fill="url(#hl)" opacity="0.17"/>
<ellipse cx="52.2" cy="240" rx="0.7" ry="3" fill="#a0d8c0"/>
<ellipse cx="50.2" cy="276.7" rx="0.8" ry="1" fill="#ff6020"/>
<ellipse cx="47" cy="276.7" rx="2.5" ry="0.6" fill="#60e0ff"/>
<ellipse cx="40.4" cy="320.7" rx="0.7" ry="1" fill="#ff3020"/>
<ellipse cx="44.5" cy="316.3" rx="3" ry="0.6" fill="#60f0ff"/>
<ellipse cx="48.7" cy="316.3" rx="0.7" ry="0.7" fill="#ffc040"/>
<ellipse cx="42.5" cy="330" rx="1.2" ry="1" fill="#60f0ff"/>
<ellipse cx="47" cy="296" rx="0.6" ry="1" fill="#4090ff"/>
<ellipse cx="45" cy="305" rx="0.6" ry="1" fill="#4090ff"/>
<ellipse cx="49" cy="285" rx="0.6" ry="1" fill="#60a0ff"/>
<ellipse cx="44" cy="262" rx="0.6" ry="1" fill="#4080ff"/>
<rect x="26.5" y="186.5" width="53.1" height="160.0" fill="none" stroke="#909090" stroke-width="0.6"/>
<text x="53.0" y="186.2" class="b" font-size="6.1" text-anchor="middle">YG</text>
<line x1="41.1" y1="346.5" x2="41.1" y2="347.8" stroke="#222" stroke-width="0.5"/>
<text x="41.1" y="353.9" class="b" font-size="5.3" text-anchor="middle">8</text>
<line x1="54.9" y1="346.5" x2="54.9" y2="347.8" stroke="#222" stroke-width="0.5"/>
<text x="54.9" y="353.9" class="b" font-size="5.3" text-anchor="middle">16</text>
<line x1="68.7" y1="346.5" x2="68.7" y2="347.8" stroke="#222" stroke-width="0.5"/>
<text x="68.7" y="353.9" class="b" font-size="5.3" text-anchor="middle">24</text>
<rect x="79.6" y="186.5" width="53.1" height="160.0" fill="#eefaf8"/>
<rect x="93.5" y="186.5" width="0.7" height="160.0" fill="#f0a050"/>
<rect x="94.2" y="186.5" width="0.9" height="160.0" fill="#fff0c0" opacity="0.7"/>
<rect x="79.6" y="336.2" width="53.1" height="0.7" fill="#e8f0a0" opacity="0.5"/>
<linearGradient id="bf1_242" x1="0" x2="1" y1="0" y2="0"><stop offset="0" stop-color="#b8dff2" stop-opacity="0.5"/><stop offset="0.5" stop-color="#b8dff2" stop-opacity="0.30"/><stop offset="1" stop-color="#b8dff2" stop-opacity="0"/></linearGradient>
<rect x="106.0" y="240.9" width="23.3" height="2.2" fill="url(#bf1_242)"/>
<ellipse cx="105.4" cy="241" rx="0.55" ry="4.2" fill="#2050d8" opacity="0.85"/>
<rect x="95.4" y="275.59999999999997" width="8.0" height="2.2" fill="#fdeec0" opacity="0.32"/>
<linearGradient id="bf1_276" x1="0" x2="1" y1="0" y2="0"><stop offset="0" stop-color="#b8dff2" stop-opacity="0.4"/><stop offset="0.5" stop-color="#b8dff2" stop-opacity="0.24"/><stop offset="1" stop-color="#b8dff2" stop-opacity="0"/></linearGradient>
<rect x="104.5" y="275.59999999999997" width="24.8" height="2.2" fill="url(#bf1_276)"/>
<ellipse cx="103.9" cy="276.2" rx="0.55" ry="2.4" fill="#ff7030" opacity="0.75"/>
<linearGradient id="bf1_316" x1="0" x2="1" y1="0" y2="0"><stop offset="0" stop-color="#b8dff2" stop-opacity="0.3"/><stop offset="0.5" stop-color="#b8dff2" stop-opacity="0.18"/><stop offset="1" stop-color="#b8dff2" stop-opacity="0"/></linearGradient>
<rect x="104.5" y="315.2" width="24.8" height="2.2" fill="url(#bf1_316)"/>
<ellipse cx="103.9" cy="315.8" rx="0.55" ry="2.4" fill="#2050d8" opacity="0.65"/>
<ellipse cx="99.7" cy="277.6" rx="0.6" ry="1.3" fill="#ff9060" opacity="0.75"/>
<ellipse cx="98.6" cy="315.1" rx="0.6" ry="1.1" fill="#4070e0" opacity="0.75"/>
<ellipse cx="103.1" cy="300.8" rx="0.6" ry="0.9" fill="#4070e0" opacity="0.75"/>
<ellipse cx="98.3" cy="282.4" rx="0.6" ry="0.7" fill="#4070e0" opacity="0.75"/>
<ellipse cx="101.6" cy="291.3" rx="0.6" ry="1.2" fill="#80b0f0" opacity="0.75"/>
<ellipse cx="96.3" cy="325.3" rx="0.6" ry="0.8" fill="#80b0f0" opacity="0.75"/>
<ellipse cx="98.2" cy="286.3" rx="0.6" ry="1.1" fill="#ff5030" opacity="0.75"/>
<ellipse cx="100.1" cy="288.3" rx="0.6" ry="0.9" fill="#f0d040" opacity="0.75"/>
<ellipse cx="97.7" cy="295.8" rx="0.6" ry="1.2" fill="#80b0f0" opacity="0.75"/>
<ellipse cx="98.1" cy="331.7" rx="0.6" ry="1.0" fill="#4070e0" opacity="0.75"/>
<ellipse cx="97.4" cy="263.7" rx="0.6" ry="0.9" fill="#a0d0f0" opacity="0.75"/>
<ellipse cx="96.5" cy="327.6" rx="0.6" ry="0.9" fill="#ff5030" opacity="0.75"/>
<ellipse cx="96.7" cy="323.1" rx="0.6" ry="1.1" fill="#80b0f0" opacity="0.75"/>
<ellipse cx="101.2" cy="291.0" rx="0.6" ry="1.1" fill="#a0d0f0" opacity="0.75"/>
<ellipse cx="95.6" cy="329.5" rx="0.6" ry="0.8" fill="#ff9060" opacity="0.75"/>
<ellipse cx="102.6" cy="317.3" rx="0.6" ry="1.3" fill="#a0d0f0" opacity="0.75"/>
<ellipse cx="103.4" cy="267.3" rx="0.6" ry="0.9" fill="#ff9060" opacity="0.75"/>
<ellipse cx="103.4" cy="332.1" rx="0.6" ry="1.1" fill="#ff5030" opacity="0.75"/>
<ellipse cx="100.0" cy="310.4" rx="0.6" ry="1.2" fill="#80b0f0" opacity="0.75"/>
<ellipse cx="95.3" cy="276.3" rx="0.6" ry="1.2" fill="#4070e0" opacity="0.75"/>
<ellipse cx="102.8" cy="297.7" rx="0.6" ry="0.7" fill="#4070e0" opacity="0.75"/>
<ellipse cx="95.4" cy="287.0" rx="0.6" ry="0.7" fill="#80b0f0" opacity="0.75"/>
<ellipse cx="99.4" cy="317.1" rx="0.6" ry="1.0" fill="#f0d040" opacity="0.75"/>
<ellipse cx="95.8" cy="316.3" rx="0.6" ry="0.7" fill="#f0d040" opacity="0.75"/>
<ellipse cx="103.3" cy="282.0" rx="0.6" ry="0.9" fill="#4070e0" opacity="0.75"/>
<ellipse cx="99.1" cy="326.0" rx="0.6" ry="0.8" fill="#f0d040" opacity="0.75"/>
<rect x="79.6" y="186.5" width="53.1" height="160.0" fill="none" stroke="#909090" stroke-width="0.6"/>
<text x="106.1" y="186.2" class="b" font-size="6.1" text-anchor="middle">NG46</text>
<line x1="94.2" y1="346.5" x2="94.2" y2="347.8" stroke="#222" stroke-width="0.5"/>
<text x="94.2" y="353.9" class="b" font-size="5.3" text-anchor="middle">8</text>
<line x1="108.0" y1="346.5" x2="108.0" y2="347.8" stroke="#222" stroke-width="0.5"/>
<text x="108.0" y="353.9" class="b" font-size="5.3" text-anchor="middle">16</text>
<line x1="121.8" y1="346.5" x2="121.8" y2="347.8" stroke="#222" stroke-width="0.5"/>
<text x="121.8" y="353.9" class="b" font-size="5.3" text-anchor="middle">24</text>
<rect x="132.7" y="186.5" width="53.1" height="160.0" fill="#eefaf8"/>
<rect x="146.7" y="186.5" width="0.7" height="160.0" fill="#f0d890"/>
<rect x="147.3" y="186.5" width="0.9" height="160.0" fill="#fff0c0" opacity="0.7"/>
<rect x="132.7" y="336.2" width="53.1" height="0.7" fill="#e8f0a0" opacity="0.5"/>
<rect x="148.5" y="240.9" width="9.5" height="2.2" fill="#fdeec0" opacity="0.72"/>
<linearGradient id="bf2_242" x1="0" x2="1" y1="0" y2="0"><stop offset="0" stop-color="#b8dff2" stop-opacity="0.9"/><stop offset="0.5" stop-color="#b8dff2" stop-opacity="0.54"/><stop offset="1" stop-color="#b8dff2" stop-opacity="0"/></linearGradient>
<rect x="159.1" y="240.9" width="23.3" height="2.2" fill="url(#bf2_242)"/>
<ellipse cx="158.5" cy="241" rx="0.55" ry="4.2" fill="#ff7030" opacity="0.95"/>
<rect x="148.5" y="275.59999999999997" width="8.0" height="2.2" fill="#fdeec0" opacity="0.48"/>
<linearGradient id="bf2_276" x1="0" x2="1" y1="0" y2="0"><stop offset="0" stop-color="#b8dff2" stop-opacity="0.6"/><stop offset="0.5" stop-color="#b8dff2" stop-opacity="0.36"/><stop offset="1" stop-color="#b8dff2" stop-opacity="0"/></linearGradient>
<rect x="157.6" y="275.59999999999997" width="24.8" height="2.2" fill="url(#bf2_276)"/>
<ellipse cx="157.0" cy="276.2" rx="0.55" ry="2.4" fill="#e03020" opacity="0.95"/>
<rect x="148.5" y="315.2" width="8.0" height="2.2" fill="#fdeec0" opacity="0.32"/>
<linearGradient id="bf2_316" x1="0" x2="1" y1="0" y2="0"><stop offset="0" stop-color="#b8dff2" stop-opacity="0.4"/><stop offset="0.5" stop-color="#b8dff2" stop-opacity="0.24"/><stop offset="1" stop-color="#b8dff2" stop-opacity="0"/></linearGradient>
<rect x="157.6" y="315.2" width="24.8" height="2.2" fill="url(#bf2_316)"/>
<ellipse cx="157.0" cy="315.8" rx="0.55" ry="2.4" fill="#ff7030" opacity="0.75"/>
<ellipse cx="148.5" cy="311.3" rx="0.6" ry="1.0" fill="#4070e0" opacity="0.75"/>
<ellipse cx="153.6" cy="276.6" rx="0.6" ry="1.1" fill="#f0d040" opacity="0.75"/>
<ellipse cx="152.7" cy="265.5" rx="0.6" ry="1.0" fill="#ff9060" opacity="0.75"/>
<ellipse cx="154.5" cy="332.8" rx="0.6" ry="1.2" fill="#4070e0" opacity="0.75"/>
<ellipse cx="150.8" cy="280.1" rx="0.6" ry="0.7" fill="#4070e0" opacity="0.75"/>
<ellipse cx="147.5" cy="276.7" rx="0.6" ry="1.0" fill="#ff9060" opacity="0.75"/>
<ellipse cx="152.0" cy="279.8" rx="0.6" ry="1.0" fill="#ff9060" opacity="0.75"/>
<ellipse cx="151.9" cy="295.0" rx="0.6" ry="1.1" fill="#80b0f0" opacity="0.75"/>
<ellipse cx="149.5" cy="269.4" rx="0.6" ry="0.9" fill="#f0d040" opacity="0.75"/>
<ellipse cx="148.9" cy="296.2" rx="0.6" ry="0.9" fill="#ff9060" opacity="0.75"/>
<ellipse cx="151.0" cy="334.6" rx="0.6" ry="0.9" fill="#4070e0" opacity="0.75"/>
<ellipse cx="147.7" cy="281.0" rx="0.6" ry="0.9" fill="#f0d040" opacity="0.75"/>
<ellipse cx="152.6" cy="297.2" rx="0.6" ry="1.2" fill="#a0d0f0" opacity="0.75"/>
<ellipse cx="149.7" cy="287.3" rx="0.6" ry="1.0" fill="#a0d0f0" opacity="0.75"/>
<ellipse cx="156.5" cy="297.8" rx="0.6" ry="1.4" fill="#a0d0f0" opacity="0.75"/>
<ellipse cx="152.1" cy="278.6" rx="0.6" ry="1.2" fill="#4070e0" opacity="0.75"/>
<ellipse cx="153.0" cy="335.2" rx="0.6" ry="0.7" fill="#ff9060" opacity="0.75"/>
<ellipse cx="155.4" cy="291.6" rx="0.6" ry="0.9" fill="#ff5030" opacity="0.75"/>
<ellipse cx="156.4" cy="337.5" rx="0.6" ry="0.8" fill="#4070e0" opacity="0.75"/>
<ellipse cx="154.8" cy="303.8" rx="0.6" ry="1.2" fill="#80b0f0" opacity="0.75"/>
<ellipse cx="151.2" cy="333.0" rx="0.6" ry="0.8" fill="#4070e0" opacity="0.75"/>
<ellipse cx="151.5" cy="315.0" rx="0.6" ry="1.0" fill="#4070e0" opacity="0.75"/>
<ellipse cx="148.4" cy="310.0" rx="0.6" ry="0.8" fill="#ff9060" opacity="0.75"/>
<ellipse cx="147.8" cy="293.1" rx="0.6" ry="0.7" fill="#4070e0" opacity="0.75"/>
<ellipse cx="154.8" cy="262.3" rx="0.6" ry="0.9" fill="#f0d040" opacity="0.75"/>
<ellipse cx="154.3" cy="295.2" rx="0.6" ry="0.9" fill="#4070e0" opacity="0.75"/>
<rect x="132.7" y="186.5" width="53.1" height="160.0" fill="none" stroke="#909090" stroke-width="0.6"/>
<text x="159.2" y="186.2" class="b" font-size="6.1" text-anchor="middle">NG5055</text>
<line x1="147.3" y1="346.5" x2="147.3" y2="347.8" stroke="#222" stroke-width="0.5"/>
<text x="147.3" y="353.9" class="b" font-size="5.3" text-anchor="middle">8</text>
<line x1="161.1" y1="346.5" x2="161.1" y2="347.8" stroke="#222" stroke-width="0.5"/>
<text x="161.1" y="353.9" class="b" font-size="5.3" text-anchor="middle">16</text>
<line x1="174.9" y1="346.5" x2="174.9" y2="347.8" stroke="#222" stroke-width="0.5"/>
<text x="174.9" y="353.9" class="b" font-size="5.3" text-anchor="middle">24</text>
<rect x="185.8" y="186.5" width="53.1" height="160.0" fill="#eefaf8"/>
<rect x="199.8" y="186.5" width="0.7" height="160.0" fill="#b8e0f0"/>
<rect x="200.5" y="186.5" width="0.9" height="160.0" fill="#fff0c0" opacity="0.7"/>
<rect x="185.8" y="336.2" width="53.1" height="0.7" fill="#e8f0a0" opacity="0.5"/>
<rect x="201.6" y="240.9" width="9.5" height="2.2" fill="#b8dff2" opacity="0.72"/>
<linearGradient id="bf3_242" x1="0" x2="1" y1="0" y2="0"><stop offset="0" stop-color="#fdeec0" stop-opacity="0.9"/><stop offset="0.5" stop-color="#fdeec0" stop-opacity="0.54"/><stop offset="1" stop-color="#fdeec0" stop-opacity="0"/></linearGradient>
<rect x="212.2" y="240.9" width="23.3" height="2.2" fill="url(#bf3_242)"/>
<ellipse cx="211.6" cy="241" rx="0.55" ry="4.2" fill="#2050d8" opacity="0.95"/>
<rect x="201.6" y="275.59999999999997" width="8.0" height="2.2" fill="#b8dff2" opacity="0.56"/>
<linearGradient id="bf3_276" x1="0" x2="1" y1="0" y2="0"><stop offset="0" stop-color="#fdeec0" stop-opacity="0.7"/><stop offset="0.5" stop-color="#fdeec0" stop-opacity="0.42"/><stop offset="1" stop-color="#fdeec0" stop-opacity="0"/></linearGradient>
<rect x="210.7" y="275.59999999999997" width="24.8" height="2.2" fill="url(#bf3_276)"/>
<ellipse cx="210.1" cy="276.2" rx="0.55" ry="2.4" fill="#2050d8" opacity="0.95"/>
<rect x="201.6" y="315.2" width="8.0" height="2.2" fill="#b8dff2" opacity="0.32"/>
<linearGradient id="bf3_316" x1="0" x2="1" y1="0" y2="0"><stop offset="0" stop-color="#fdeec0" stop-opacity="0.4"/><stop offset="0.5" stop-color="#fdeec0" stop-opacity="0.24"/><stop offset="1" stop-color="#fdeec0" stop-opacity="0"/></linearGradient>
<rect x="210.7" y="315.2" width="24.8" height="2.2" fill="url(#bf3_316)"/>
<ellipse cx="210.1" cy="315.8" rx="0.55" ry="2.4" fill="#ff7030" opacity="0.75"/>
<ellipse cx="209.9" cy="298.5" rx="0.6" ry="1.2" fill="#a0d0f0" opacity="0.75"/>
<ellipse cx="208.3" cy="317.1" rx="0.6" ry="1.2" fill="#ff9060" opacity="0.75"/>
<ellipse cx="206.6" cy="298.9" rx="0.6" ry="1.3" fill="#f0d040" opacity="0.75"/>
<ellipse cx="201.3" cy="268.6" rx="0.6" ry="1.1" fill="#4070e0" opacity="0.75"/>
<ellipse cx="209.8" cy="265.5" rx="0.6" ry="1.2" fill="#ff5030" opacity="0.75"/>
<ellipse cx="206.2" cy="285.5" rx="0.6" ry="0.9" fill="#a0d0f0" opacity="0.75"/>
<ellipse cx="207.4" cy="319.8" rx="0.6" ry="0.8" fill="#80b0f0" opacity="0.75"/>
<ellipse cx="206.7" cy="323.7" rx="0.6" ry="0.8" fill="#ff9060" opacity="0.75"/>
<ellipse cx="203.8" cy="308.4" rx="0.6" ry="1.1" fill="#a0d0f0" opacity="0.75"/>
<ellipse cx="204.8" cy="282.1" rx="0.6" ry="1.3" fill="#f0d040" opacity="0.75"/>
<ellipse cx="207.7" cy="304.3" rx="0.6" ry="1.0" fill="#80b0f0" opacity="0.75"/>
<ellipse cx="207.2" cy="285.7" rx="0.6" ry="1.3" fill="#80b0f0" opacity="0.75"/>
<ellipse cx="201.4" cy="303.0" rx="0.6" ry="1.0" fill="#ff5030" opacity="0.75"/>
<ellipse cx="203.6" cy="329.2" rx="0.6" ry="1.2" fill="#a0d0f0" opacity="0.75"/>
<ellipse cx="201.0" cy="300.8" rx="0.6" ry="1.4" fill="#ff5030" opacity="0.75"/>
<ellipse cx="205.7" cy="323.7" rx="0.6" ry="0.9" fill="#a0d0f0" opacity="0.75"/>
<ellipse cx="200.3" cy="300.2" rx="0.6" ry="0.9" fill="#ff9060" opacity="0.75"/>
<ellipse cx="208.3" cy="297.5" rx="0.6" ry="1.3" fill="#a0d0f0" opacity="0.75"/>
<ellipse cx="201.9" cy="324.3" rx="0.6" ry="1.1" fill="#f0d040" opacity="0.75"/>
<ellipse cx="208.8" cy="305.5" rx="0.6" ry="0.8" fill="#ff9060" opacity="0.75"/>
<ellipse cx="202.3" cy="336.7" rx="0.6" ry="1.1" fill="#4070e0" opacity="0.75"/>
<ellipse cx="206.6" cy="292.4" rx="0.6" ry="1.0" fill="#80b0f0" opacity="0.75"/>
<ellipse cx="201.0" cy="273.6" rx="0.6" ry="0.9" fill="#ff5030" opacity="0.75"/>
<ellipse cx="206.9" cy="329.9" rx="0.6" ry="0.7" fill="#ff9060" opacity="0.75"/>
<ellipse cx="204.7" cy="293.7" rx="0.6" ry="0.7" fill="#4070e0" opacity="0.75"/>
<ellipse cx="203.7" cy="327.3" rx="0.6" ry="1.2" fill="#ff5030" opacity="0.75"/>
<rect x="185.8" y="186.5" width="53.1" height="160.0" fill="none" stroke="#909090" stroke-width="0.6"/>
<text x="212.4" y="186.2" class="b" font-size="6.1" text-anchor="middle">NG9108</text>
<line x1="200.4" y1="346.5" x2="200.4" y2="347.8" stroke="#222" stroke-width="0.5"/>
<text x="200.4" y="353.9" class="b" font-size="5.3" text-anchor="middle">8</text>
<line x1="214.2" y1="346.5" x2="214.2" y2="347.8" stroke="#222" stroke-width="0.5"/>
<text x="214.2" y="353.9" class="b" font-size="5.3" text-anchor="middle">16</text>
<line x1="228.0" y1="346.5" x2="228.0" y2="347.8" stroke="#222" stroke-width="0.5"/>
<text x="228.0" y="353.9" class="b" font-size="5.3" text-anchor="middle">24</text>
<rect x="238.9" y="186.5" width="53.1" height="160.0" fill="#eefaf8"/>
<rect x="252.9" y="186.5" width="0.7" height="160.0" fill="#f0e8a0"/>
<rect x="253.6" y="186.5" width="0.9" height="160.0" fill="#fff0c0" opacity="0.7"/>
<rect x="238.9" y="336.2" width="53.1" height="0.7" fill="#e8f0a0" opacity="0.5"/>
<rect x="254.7" y="240.9" width="9.5" height="2.2" fill="#fdeec0" opacity="0.64"/>
<linearGradient id="bf4_242" x1="0" x2="1" y1="0" y2="0"><stop offset="0" stop-color="#b8dff2" stop-opacity="0.8"/><stop offset="0.5" stop-color="#b8dff2" stop-opacity="0.48"/><stop offset="1" stop-color="#b8dff2" stop-opacity="0"/></linearGradient>
<rect x="265.3" y="240.9" width="23.3" height="2.2" fill="url(#bf4_242)"/>
<ellipse cx="264.7" cy="241" rx="0.55" ry="4.2" fill="#ff7030" opacity="0.95"/>
<rect x="254.7" y="275.59999999999997" width="8.0" height="2.2" fill="#fdeec0" opacity="0.40"/>
<linearGradient id="bf4_276" x1="0" x2="1" y1="0" y2="0"><stop offset="0" stop-color="#b8dff2" stop-opacity="0.5"/><stop offset="0.5" stop-color="#b8dff2" stop-opacity="0.30"/><stop offset="1" stop-color="#b8dff2" stop-opacity="0"/></linearGradient>
<rect x="263.8" y="275.59999999999997" width="24.8" height="2.2" fill="url(#bf4_276)"/>
<ellipse cx="263.2" cy="276.2" rx="0.55" ry="2.4" fill="#ff7030" opacity="0.85"/>
<rect x="254.7" y="315.2" width="8.0" height="2.2" fill="#fdeec0" opacity="0.32"/>
<linearGradient id="bf4_316" x1="0" x2="1" y1="0" y2="0"><stop offset="0" stop-color="#b8dff2" stop-opacity="0.4"/><stop offset="0.5" stop-color="#b8dff2" stop-opacity="0.24"/><stop offset="1" stop-color="#b8dff2" stop-opacity="0"/></linearGradient>
<rect x="263.8" y="315.2" width="24.8" height="2.2" fill="url(#bf4_316)"/>
<ellipse cx="263.2" cy="315.8" rx="0.55" ry="2.4" fill="#ff7030" opacity="0.75"/>
<ellipse cx="262.8" cy="331.7" rx="0.6" ry="1.2" fill="#a0d0f0" opacity="0.75"/>
<ellipse cx="257.1" cy="262.5" rx="0.6" ry="1.2" fill="#4070e0" opacity="0.75"/>
<ellipse cx="253.4" cy="275.3" rx="0.6" ry="0.7" fill="#4070e0" opacity="0.75"/>
<ellipse cx="259.8" cy="288.4" rx="0.6" ry="0.6" fill="#a0d0f0" opacity="0.75"/>
<ellipse cx="255.2" cy="282.6" rx="0.6" ry="1.4" fill="#f0d040" opacity="0.75"/>
<ellipse cx="254.9" cy="285.9" rx="0.6" ry="1.0" fill="#ff5030" opacity="0.75"/>
<ellipse cx="258.6" cy="282.7" rx="0.6" ry="1.3" fill="#4070e0" opacity="0.75"/>
<ellipse cx="253.6" cy="265.1" rx="0.6" ry="1.3" fill="#ff5030" opacity="0.75"/>
<ellipse cx="255.7" cy="295.2" rx="0.6" ry="0.9" fill="#ff5030" opacity="0.75"/>
<ellipse cx="263.1" cy="278.0" rx="0.6" ry="0.6" fill="#ff5030" opacity="0.75"/>
<ellipse cx="259.9" cy="326.4" rx="0.6" ry="1.0" fill="#ff9060" opacity="0.75"/>
<ellipse cx="254.5" cy="279.6" rx="0.6" ry="0.7" fill="#4070e0" opacity="0.75"/>
<ellipse cx="258.4" cy="265.2" rx="0.6" ry="0.6" fill="#80b0f0" opacity="0.75"/>
<ellipse cx="257.8" cy="279.0" rx="0.6" ry="0.7" fill="#80b0f0" opacity="0.75"/>
<ellipse cx="254.7" cy="262.8" rx="0.6" ry="0.8" fill="#a0d0f0" opacity="0.75"/>
<ellipse cx="253.9" cy="311.7" rx="0.6" ry="0.9" fill="#a0d0f0" opacity="0.75"/>
<ellipse cx="261.5" cy="300.3" rx="0.6" ry="1.2" fill="#4070e0" opacity="0.75"/>
<ellipse cx="256.3" cy="329.4" rx="0.6" ry="0.6" fill="#a0d0f0" opacity="0.75"/>
<ellipse cx="262.0" cy="319.8" rx="0.6" ry="1.0" fill="#80b0f0" opacity="0.75"/>
<ellipse cx="258.4" cy="320.7" rx="0.6" ry="1.2" fill="#ff9060" opacity="0.75"/>
<ellipse cx="255.7" cy="263.8" rx="0.6" ry="1.3" fill="#80b0f0" opacity="0.75"/>
<ellipse cx="254.4" cy="277.4" rx="0.6" ry="1.1" fill="#4070e0" opacity="0.75"/>
<ellipse cx="261.3" cy="311.0" rx="0.6" ry="0.7" fill="#f0d040" opacity="0.75"/>
<ellipse cx="261.2" cy="275.4" rx="0.6" ry="1.3" fill="#ff5030" opacity="0.75"/>
<ellipse cx="253.3" cy="317.2" rx="0.6" ry="1.4" fill="#4070e0" opacity="0.75"/>
<ellipse cx="257.1" cy="305.3" rx="0.6" ry="0.7" fill="#4070e0" opacity="0.75"/>
<rect x="238.9" y="186.5" width="53.1" height="160.0" fill="none" stroke="#909090" stroke-width="0.6"/>
<text x="265.4" y="186.2" class="b" font-size="6.1" text-anchor="middle">YN1</text>
<line x1="253.5" y1="346.5" x2="253.5" y2="347.8" stroke="#222" stroke-width="0.5"/>
<text x="253.5" y="353.9" class="b" font-size="5.3" text-anchor="middle">8</text>
<line x1="267.3" y1="346.5" x2="267.3" y2="347.8" stroke="#222" stroke-width="0.5"/>
<text x="267.3" y="353.9" class="b" font-size="5.3" text-anchor="middle">16</text>
<line x1="281.1" y1="346.5" x2="281.1" y2="347.8" stroke="#222" stroke-width="0.5"/>
<text x="281.1" y="353.9" class="b" font-size="5.3" text-anchor="middle">24</text>
<rect x="292.0" y="186.5" width="53.1" height="160.0" fill="#eefaf8"/>
<rect x="305.9" y="186.5" width="0.7" height="160.0" fill="#f0e0a0"/>
<rect x="306.7" y="186.5" width="0.9" height="160.0" fill="#fff0c0" opacity="0.7"/>
<rect x="292.0" y="336.2" width="53.1" height="0.7" fill="#e8f0a0" opacity="0.5"/>
<rect x="307.8" y="240.9" width="9.5" height="2.2" fill="#fdeec0" opacity="0.72"/>
<linearGradient id="bf5_242" x1="0" x2="1" y1="0" y2="0"><stop offset="0" stop-color="#b8dff2" stop-opacity="0.9"/><stop offset="0.5" stop-color="#b8dff2" stop-opacity="0.54"/><stop offset="1" stop-color="#b8dff2" stop-opacity="0"/></linearGradient>
<rect x="318.4" y="240.9" width="23.3" height="2.2" fill="url(#bf5_242)"/>
<ellipse cx="317.8" cy="241" rx="0.55" ry="4.2" fill="#ff7030" opacity="0.95"/>
<rect x="307.8" y="275.59999999999997" width="8.0" height="2.2" fill="#b8dff2" opacity="0.56"/>
<linearGradient id="bf5_276" x1="0" x2="1" y1="0" y2="0"><stop offset="0" stop-color="#fdeec0" stop-opacity="0.7"/><stop offset="0.5" stop-color="#fdeec0" stop-opacity="0.42"/><stop offset="1" stop-color="#fdeec0" stop-opacity="0"/></linearGradient>
<rect x="316.9" y="275.59999999999997" width="24.8" height="2.2" fill="url(#bf5_276)"/>
<ellipse cx="316.3" cy="276.2" rx="0.55" ry="2.4" fill="#2050d8" opacity="0.95"/>
<rect x="307.8" y="315.2" width="8.0" height="2.2" fill="#b8dff2" opacity="0.40"/>
<linearGradient id="bf5_316" x1="0" x2="1" y1="0" y2="0"><stop offset="0" stop-color="#b8dff2" stop-opacity="0.5"/><stop offset="0.5" stop-color="#b8dff2" stop-opacity="0.30"/><stop offset="1" stop-color="#b8dff2" stop-opacity="0"/></linearGradient>
<rect x="316.9" y="315.2" width="24.8" height="2.2" fill="url(#bf5_316)"/>
<ellipse cx="316.3" cy="315.8" rx="0.55" ry="2.4" fill="#2050d8" opacity="0.85"/>
<ellipse cx="315.1" cy="289.9" rx="0.6" ry="1.4" fill="#ff5030" opacity="0.75"/>
<ellipse cx="309.4" cy="323.5" rx="0.6" ry="0.8" fill="#f0d040" opacity="0.75"/>
<ellipse cx="314.8" cy="275.3" rx="0.6" ry="0.7" fill="#4070e0" opacity="0.75"/>
<ellipse cx="310.3" cy="336.5" rx="0.6" ry="1.1" fill="#80b0f0" opacity="0.75"/>
<ellipse cx="314.6" cy="301.7" rx="0.6" ry="0.8" fill="#a0d0f0" opacity="0.75"/>
<ellipse cx="316.2" cy="311.0" rx="0.6" ry="1.3" fill="#ff9060" opacity="0.75"/>
<ellipse cx="306.9" cy="288.2" rx="0.6" ry="1.4" fill="#ff9060" opacity="0.75"/>
<ellipse cx="309.9" cy="320.0" rx="0.6" ry="1.3" fill="#a0d0f0" opacity="0.75"/>
<ellipse cx="316.1" cy="340.1" rx="0.6" ry="1.3" fill="#a0d0f0" opacity="0.75"/>
<ellipse cx="315.9" cy="332.3" rx="0.6" ry="1.2" fill="#ff9060" opacity="0.75"/>
<ellipse cx="312.6" cy="328.1" rx="0.6" ry="0.9" fill="#ff9060" opacity="0.75"/>
<ellipse cx="309.2" cy="332.7" rx="0.6" ry="1.2" fill="#ff9060" opacity="0.75"/>
<ellipse cx="307.5" cy="295.5" rx="0.6" ry="1.2" fill="#f0d040" opacity="0.75"/>
<ellipse cx="312.0" cy="335.7" rx="0.6" ry="1.0" fill="#ff9060" opacity="0.75"/>
<ellipse cx="314.1" cy="331.4" rx="0.6" ry="1.2" fill="#ff9060" opacity="0.75"/>
<ellipse cx="311.8" cy="278.3" rx="0.6" ry="1.3" fill="#ff9060" opacity="0.75"/>
<ellipse cx="309.5" cy="319.9" rx="0.6" ry="1.2" fill="#80b0f0" opacity="0.75"/>
<ellipse cx="311.4" cy="275.4" rx="0.6" ry="0.7" fill="#ff5030" opacity="0.75"/>
<ellipse cx="312.6" cy="290.5" rx="0.6" ry="0.8" fill="#f0d040" opacity="0.75"/>
<ellipse cx="308.7" cy="335.8" rx="0.6" ry="0.8" fill="#80b0f0" opacity="0.75"/>
<ellipse cx="314.9" cy="271.0" rx="0.6" ry="1.0" fill="#ff5030" opacity="0.75"/>
<ellipse cx="308.0" cy="331.3" rx="0.6" ry="0.7" fill="#f0d040" opacity="0.75"/>
<ellipse cx="313.9" cy="284.9" rx="0.6" ry="0.8" fill="#4070e0" opacity="0.75"/>
<ellipse cx="307.5" cy="291.1" rx="0.6" ry="1.4" fill="#a0d0f0" opacity="0.75"/>
<ellipse cx="311.5" cy="336.3" rx="0.6" ry="0.8" fill="#f0d040" opacity="0.75"/>
<ellipse cx="307.5" cy="328.7" rx="0.6" ry="1.0" fill="#ff9060" opacity="0.75"/>
<rect x="292.0" y="186.5" width="53.1" height="160.0" fill="none" stroke="#909090" stroke-width="0.6"/>
<text x="318.6" y="186.2" class="b" font-size="6.1" text-anchor="middle">WY3</text>
<line x1="306.6" y1="346.5" x2="306.6" y2="347.8" stroke="#222" stroke-width="0.5"/>
<text x="306.6" y="353.9" class="b" font-size="5.3" text-anchor="middle">8</text>
<line x1="320.4" y1="346.5" x2="320.4" y2="347.8" stroke="#222" stroke-width="0.5"/>
<text x="320.4" y="353.9" class="b" font-size="5.3" text-anchor="middle">16</text>
<line x1="334.2" y1="346.5" x2="334.2" y2="347.8" stroke="#222" stroke-width="0.5"/>
<text x="334.2" y="353.9" class="b" font-size="5.3" text-anchor="middle">24</text>
<line x1="23.5" y1="325.0" x2="26.5" y2="325.0" stroke="#222" stroke-width="0.5"/>
<text x="23.3" y="326.9" class="b" font-size="5.6" text-anchor="end">200</text>
<line x1="23.5" y1="303.7" x2="26.5" y2="303.7" stroke="#222" stroke-width="0.5"/>
<text x="23.3" y="305.6" class="b" font-size="5.6" text-anchor="end">400</text>
<line x1="23.5" y1="282.4" x2="26.5" y2="282.4" stroke="#222" stroke-width="0.5"/>
<text x="23.3" y="284.3" class="b" font-size="5.6" text-anchor="end">600</text>
<line x1="23.5" y1="261.1" x2="26.5" y2="261.1" stroke="#222" stroke-width="0.5"/>
<text x="23.3" y="263.0" class="b" font-size="5.6" text-anchor="end">800</text>
<line x1="23.5" y1="239.8" x2="26.5" y2="239.8" stroke="#222" stroke-width="0.5"/>
<text x="23.3" y="241.7" class="b" font-size="5.6" text-anchor="end">1000</text>
<line x1="23.5" y1="218.5" x2="26.5" y2="218.5" stroke="#222" stroke-width="0.5"/>
<text x="23.3" y="220.4" class="b" font-size="5.6" text-anchor="end">1200</text>
<line x1="23.5" y1="197.2" x2="26.5" y2="197.2" stroke="#222" stroke-width="0.5"/>
<text x="23.3" y="199.1" class="b" font-size="5.6" text-anchor="end">1400</text>
<text x="8.3" y="261.3" class="b" font-size="7.6" text-anchor="middle" transform="rotate(-90 8.3 261.3)">Measurement run (sec)</text>
<text x="190" y="361.3" class="b" font-size="7.8" text-anchor="middle">Drift time (ms)</text>
<text x="4.6" y="374.9" class="b" font-size="9.2">C</text>
<text x="18.6" y="382.2" class="b" font-size="5.2" text-anchor="middle" style="stroke-width:0.06px">No.</text>
<text x="26.6" y="382.2" class="b" font-size="5.2" text-anchor="middle" style="stroke-width:0.06px">1</text>
<text x="34.0" y="382.2" class="b" font-size="5.2" text-anchor="middle" style="stroke-width:0.06px">2</text>
<text x="41.5" y="382.2" class="b" font-size="5.2" text-anchor="middle" style="stroke-width:0.06px">3</text>
<text x="48.9" y="382.2" class="b" font-size="5.2" text-anchor="middle" style="stroke-width:0.06px">4</text>
<text x="56.3" y="382.2" class="b" font-size="5.2" text-anchor="middle" style="stroke-width:0.06px">5</text>
<text x="63.8" y="382.2" class="b" font-size="5.2" text-anchor="middle" style="stroke-width:0.06px">6</text>
<text x="71.2" y="382.2" class="b" font-size="5.2" text-anchor="middle" style="stroke-width:0.06px">7</text>
<text x="78.6" y="382.2" class="b" font-size="5.2" text-anchor="middle" style="stroke-width:0.06px">8</text>
<text x="86.0" y="382.2" class="b" font-size="5.2" text-anchor="middle" style="stroke-width:0.06px">9</text>
<text x="93.5" y="382.2" class="b" font-size="5.2" text-anchor="middle" style="stroke-width:0.06px">10</text>
<text x="100.9" y="382.2" class="b" font-size="5.2" text-anchor="middle" style="stroke-width:0.06px">11</text>
<text x="108.3" y="382.2" class="b" font-size="5.2" text-anchor="middle" style="stroke-width:0.06px">12</text>
<text x="115.8" y="382.2" class="b" font-size="5.2" text-anchor="middle" style="stroke-width:0.06px">13</text>
<text x="123.2" y="382.2" class="b" font-size="5.2" text-anchor="middle" style="stroke-width:0.06px">14</text>
<text x="130.6" y="382.2" class="b" font-size="5.2" text-anchor="middle" style="stroke-width:0.06px">15</text>
<text x="138.0" y="382.2" class="b" font-size="5.2" text-anchor="middle" style="stroke-width:0.06px">16</text>
<text x="145.5" y="382.2" class="b" font-size="5.2" text-anchor="middle" style="stroke-width:0.06px">17</text>
<text x="152.9" y="382.2" class="b" font-size="5.2" text-anchor="middle" style="stroke-width:0.06px">18</text>
<text x="160.3" y="382.2" class="b" font-size="5.2" text-anchor="middle" style="stroke-width:0.06px">19</text>
<text x="167.8" y="382.2" class="b" font-size="5.2" text-anchor="middle" style="stroke-width:0.06px">20</text>
<text x="175.2" y="382.2" class="b" font-size="5.2" text-anchor="middle" style="stroke-width:0.06px">21</text>
<text x="182.6" y="382.2" class="b" font-size="5.2" text-anchor="middle" style="stroke-width:0.06px">22</text>
<text x="190.1" y="382.2" class="b" font-size="5.2" text-anchor="middle" style="stroke-width:0.06px">23</text>
<text x="197.5" y="382.2" class="b" font-size="5.2" text-anchor="middle" style="stroke-width:0.06px">24</text>
<text x="204.9" y="382.2" class="b" font-size="5.2" text-anchor="middle" style="stroke-width:0.06px">25</text>
<text x="212.3" y="382.2" class="b" font-size="5.2" text-anchor="middle" style="stroke-width:0.06px">26</text>
<text x="219.8" y="382.2" class="b" font-size="5.2" text-anchor="middle" style="stroke-width:0.06px">27</text>
<text x="227.2" y="382.2" class="b" font-size="5.2" text-anchor="middle" style="stroke-width:0.06px">28</text>
<text x="234.6" y="382.2" class="b" font-size="5.2" text-anchor="middle" style="stroke-width:0.06px">29</text>
<text x="242.1" y="382.2" class="b" font-size="5.2" text-anchor="middle" style="stroke-width:0.06px">30</text>
<text x="249.5" y="382.2" class="b" font-size="5.2" text-anchor="middle" style="stroke-width:0.06px">31</text>
<text x="256.9" y="382.2" class="b" font-size="5.2" text-anchor="middle" style="stroke-width:0.06px">32</text>
<text x="264.4" y="382.2" class="b" font-size="5.2" text-anchor="middle" style="stroke-width:0.06px">33</text>
<text x="271.8" y="382.2" class="b" font-size="5.2" text-anchor="middle" style="stroke-width:0.06px">34</text>
<text x="279.2" y="382.2" class="b" font-size="5.2" text-anchor="middle" style="stroke-width:0.06px">35</text>
<text x="286.7" y="382.2" class="b" font-size="5.2" text-anchor="middle" style="stroke-width:0.06px">36</text>
<text x="294.1" y="382.2" class="b" font-size="5.2" text-anchor="middle" style="stroke-width:0.06px">37</text>
<text x="301.5" y="382.2" class="b" font-size="5.2" text-anchor="middle" style="stroke-width:0.06px">38</text>
<text x="308.9" y="382.2" class="b" font-size="5.2" text-anchor="middle" style="stroke-width:0.06px">39</text>
<rect x="24.0" y="384.8" width="287.5" height="87.6" fill="#02109a"/>
<defs><radialGradient id="l0"><stop offset="0" stop-color="#3070ff" stop-opacity="0.8"/><stop offset="1" stop-color="#2a60ff" stop-opacity="0"/></radialGradient><radialGradient id="l1"><stop offset="0" stop-color="#48c0ff"/><stop offset="0.4" stop-color="#2080ff" stop-opacity="0.8"/><stop offset="1" stop-color="#1040ff" stop-opacity="0"/></radialGradient><radialGradient id="l2"><stop offset="0" stop-color="#e0ffff"/><stop offset="0.3" stop-color="#60f0ff"/><stop offset="0.55" stop-color="#10b0ff"/><stop offset="0.78" stop-color="#0050f0" stop-opacity="0.55"/><stop offset="1" stop-color="#0030e0" stop-opacity="0"/></radialGradient><radialGradient id="l3"><stop offset="0" stop-color="#ffff20"/><stop offset="0.28" stop-color="#f0ff60"/><stop offset="0.48" stop-color="#40f0e0"/><stop offset="0.68" stop-color="#00a8ff"/><stop offset="0.85" stop-color="#0050f0" stop-opacity="0.5"/><stop offset="1" stop-color="#0030e0" stop-opacity="0"/></radialGradient><radialGradient id="l4"><stop offset="0" stop-color="#ff1000"/><stop offset="0.22" stop-color="#ffa000"/><stop offset="0.42" stop-color="#ffff40"/><stop offset="0.6" stop-color="#40f0e0"/><stop offset="0.78" stop-color="#0090ff"/><stop offset="0.9" stop-color="#0050f0" stop-opacity="0.5"/><stop offset="1" stop-color="#0030e0" stop-opacity="0"/></radialGradient></defs>
<rect x="24.0" y="384.8" width="6.3" height="87.6" fill="#0212a0"/>
<ellipse cx="26.6" cy="388.4" rx="3.0" ry="2.9" fill="url(#l3)"/>
<ellipse cx="26.6" cy="395.8" rx="3.0" ry="2.9" fill="url(#l3)"/>
<ellipse cx="26.6" cy="403.1" rx="3.0" ry="2.9" fill="url(#l3)"/>
<ellipse cx="26.6" cy="410.4" rx="3.0" ry="2.9" fill="url(#l2)"/>
<ellipse cx="26.6" cy="417.7" rx="3.0" ry="2.9" fill="url(#l2)"/>
<ellipse cx="26.6" cy="424.9" rx="3.0" ry="2.9" fill="url(#l2)"/>
<ellipse cx="26.6" cy="432.2" rx="3.0" ry="2.9" fill="url(#l4)"/>
<ellipse cx="26.6" cy="439.6" rx="3.0" ry="2.9" fill="url(#l4)"/>
<ellipse cx="26.6" cy="446.9" rx="3.0" ry="2.9" fill="url(#l4)"/>
<ellipse cx="26.6" cy="454.1" rx="3.0" ry="2.9" fill="url(#l4)"/>
<ellipse cx="26.6" cy="461.4" rx="3.0" ry="2.9" fill="url(#l2)"/>
<ellipse cx="26.6" cy="468.8" rx="3.0" ry="2.9" fill="url(#l2)"/>
<rect x="30.3" y="384.8" width="7.4" height="87.6" fill="#0c40e8"/>
<rect x="31.0" y="384.8" width="6" height="87.6" fill="#2090ff" opacity="0.9"/>
<rect x="31.5" y="467.1" width="0.7" height="1.0" fill="#40d8ff" opacity="0.85"/>
<rect x="34.9" y="410.9" width="1.0" height="1.0" fill="#c0ffff" opacity="0.85"/>
<rect x="33.8" y="418.4" width="1.0" height="1.0" fill="#c0ffff" opacity="0.85"/>
<rect x="36.2" y="451.7" width="0.6" height="0.7" fill="#80f4ff" opacity="0.85"/>
<rect x="33.7" y="386.1" width="1.1" height="0.7" fill="#c0ffff" opacity="0.85"/>
<rect x="32.2" y="428.3" width="1.3" height="0.6" fill="#80f4ff" opacity="0.85"/>
<rect x="33.2" y="411.3" width="1.4" height="0.6" fill="#c0ffff" opacity="0.85"/>
<rect x="32.6" y="416.2" width="0.8" height="0.8" fill="#80f4ff" opacity="0.85"/>
<rect x="32.2" y="432.8" width="1.0" height="0.7" fill="#80f4ff" opacity="0.85"/>
<rect x="35.3" y="447.0" width="1.4" height="0.9" fill="#40d8ff" opacity="0.85"/>
<rect x="33.1" y="441.7" width="0.7" height="0.5" fill="#2aa0ff" opacity="0.85"/>
<rect x="32.6" y="408.2" width="0.7" height="0.8" fill="#c0ffff" opacity="0.85"/>
<rect x="33.6" y="390.7" width="0.9" height="0.7" fill="#2aa0ff" opacity="0.85"/>
<rect x="32.2" y="433.2" width="1.1" height="0.6" fill="#2aa0ff" opacity="0.85"/>
<rect x="31.3" y="405.4" width="1.2" height="1.2" fill="#c0ffff" opacity="0.85"/>
<rect x="32.7" y="415.4" width="1.5" height="0.5" fill="#2aa0ff" opacity="0.85"/>
<rect x="34.7" y="402.1" width="0.9" height="0.9" fill="#c0ffff" opacity="0.85"/>
<rect x="32.4" y="427.2" width="1.3" height="1.1" fill="#80f4ff" opacity="0.85"/>
<rect x="33.8" y="443.8" width="1.3" height="0.8" fill="#c0ffff" opacity="0.85"/>
<rect x="31.1" y="470.1" width="1.2" height="0.9" fill="#2aa0ff" opacity="0.85"/>
<rect x="32.0" y="403.1" width="1.3" height="1.2" fill="#c0ffff" opacity="0.85"/>
<rect x="32.1" y="460.5" width="0.8" height="0.9" fill="#80f4ff" opacity="0.85"/>
<rect x="33.5" y="433.8" width="1.2" height="1.0" fill="#c0ffff" opacity="0.85"/>
<rect x="31.2" y="422.8" width="0.7" height="0.7" fill="#c0ffff" opacity="0.85"/>
<rect x="36.2" y="456.3" width="0.7" height="1.1" fill="#80f4ff" opacity="0.85"/>
<rect x="33.3" y="387.0" width="1.4" height="1.0" fill="#2aa0ff" opacity="0.85"/>
<rect x="34.9" y="445.6" width="0.6" height="1.0" fill="#40d8ff" opacity="0.85"/>
<rect x="33.2" y="448.4" width="1.3" height="0.9" fill="#40d8ff" opacity="0.85"/>
<rect x="31.2" y="421.9" width="1.4" height="1.1" fill="#80f4ff" opacity="0.85"/>
<rect x="32.4" y="396.6" width="1.2" height="0.9" fill="#2aa0ff" opacity="0.85"/>
<rect x="33.8" y="443.1" width="1.1" height="0.7" fill="#40d8ff" opacity="0.85"/>
<rect x="33.1" y="432.5" width="0.9" height="0.6" fill="#40d8ff" opacity="0.85"/>
<rect x="34.6" y="388.3" width="1.4" height="1.0" fill="#40d8ff" opacity="0.85"/>
<rect x="32.2" y="399.7" width="1.3" height="1.1" fill="#c0ffff" opacity="0.85"/>
<rect x="35.8" y="452.3" width="0.9" height="0.6" fill="#c0ffff" opacity="0.85"/>
<rect x="31.4" y="432.2" width="1.4" height="0.8" fill="#2aa0ff" opacity="0.85"/>
<rect x="35.2" y="449.2" width="0.7" height="0.5" fill="#40d8ff" opacity="0.85"/>
<rect x="33.5" y="469.7" width="1.3" height="0.6" fill="#c0ffff" opacity="0.85"/>
<rect x="34.8" y="459.0" width="0.7" height="0.7" fill="#2aa0ff" opacity="0.85"/>
<rect x="33.5" y="451.4" width="1.6" height="1.0" fill="#2aa0ff" opacity="0.85"/>
<rect x="35.9" y="393.3" width="0.6" height="1.1" fill="#2aa0ff" opacity="0.85"/>
<rect x="34.5" y="424.3" width="0.9" height="1.2" fill="#c0ffff" opacity="0.85"/>
<rect x="36.2" y="442.0" width="1.5" height="0.7" fill="#40d8ff" opacity="0.85"/>
<rect x="31.7" y="385.5" width="1.0" height="0.9" fill="#80f4ff" opacity="0.85"/>
<rect x="34.3" y="394.1" width="1.4" height="1.0" fill="#40d8ff" opacity="0.85"/>
<rect x="33.7" y="442.4" width="0.7" height="0.8" fill="#c0ffff" opacity="0.85"/>
<rect x="34.1" y="425.7" width="0.9" height="0.7" fill="#80f4ff" opacity="0.85"/>
<rect x="32.9" y="432.3" width="1.1" height="0.9" fill="#40d8ff" opacity="0.85"/>
<rect x="32.9" y="468.4" width="1.1" height="0.9" fill="#40d8ff" opacity="0.85"/>
<rect x="36.1" y="411.9" width="1.6" height="1.2" fill="#c0ffff" opacity="0.85"/>
<rect x="32.5" y="452.9" width="1.3" height="0.9" fill="#80f4ff" opacity="0.85"/>
<rect x="32.5" y="467.7" width="0.9" height="0.6" fill="#2aa0ff" opacity="0.85"/>
<rect x="31.1" y="423.7" width="0.7" height="0.7" fill="#80f4ff" opacity="0.85"/>
<rect x="35.0" y="423.4" width="0.8" height="0.9" fill="#c0ffff" opacity="0.85"/>
<rect x="33.8" y="454.8" width="1.5" height="0.7" fill="#c0ffff" opacity="0.85"/>
<rect x="35.0" y="421.4" width="0.9" height="0.6" fill="#2aa0ff" opacity="0.85"/>
<rect x="32.4" y="393.1" width="1.2" height="0.9" fill="#2aa0ff" opacity="0.85"/>
<rect x="35.5" y="399.2" width="1.6" height="0.7" fill="#2aa0ff" opacity="0.85"/>
<rect x="32.3" y="450.6" width="1.0" height="0.9" fill="#40d8ff" opacity="0.85"/>
<rect x="35.0" y="464.1" width="1.0" height="0.7" fill="#2aa0ff" opacity="0.85"/>
<rect x="32.7" y="436.1" width="1.0" height="1.0" fill="#2aa0ff" opacity="0.85"/>
<rect x="35.2" y="419.3" width="0.9" height="1.1" fill="#2aa0ff" opacity="0.85"/>
<rect x="31.4" y="430.1" width="1.0" height="0.5" fill="#2aa0ff" opacity="0.85"/>
<rect x="33.4" y="426.3" width="1.2" height="0.9" fill="#40d8ff" opacity="0.85"/>
<rect x="32.9" y="467.9" width="1.2" height="0.6" fill="#2aa0ff" opacity="0.85"/>
<rect x="34.6" y="453.3" width="1.3" height="1.2" fill="#80f4ff" opacity="0.85"/>
<rect x="34.0" y="437.1" width="1.1" height="0.7" fill="#80f4ff" opacity="0.85"/>
<rect x="35.0" y="414.8" width="0.7" height="0.9" fill="#80f4ff" opacity="0.85"/>
<rect x="32.8" y="433.6" width="0.9" height="0.7" fill="#2aa0ff" opacity="0.85"/>
<rect x="34.8" y="406.2" width="1.2" height="0.9" fill="#80f4ff" opacity="0.85"/>
<ellipse cx="34.0" cy="388.4" rx="3.0" ry="2.9" fill="url(#l3)"/>
<ellipse cx="34.0" cy="395.8" rx="3.0" ry="2.9" fill="url(#l3)"/>
<ellipse cx="34.0" cy="403.1" rx="3.0" ry="2.9" fill="url(#l2)"/>
<ellipse cx="34.0" cy="410.4" rx="3.0" ry="2.9" fill="url(#l2)"/>
<ellipse cx="34.0" cy="417.7" rx="3.0" ry="2.9" fill="url(#l2)"/>
<ellipse cx="34.0" cy="424.9" rx="3.0" ry="2.9" fill="url(#l2)"/>
<ellipse cx="34.0" cy="432.2" rx="3.0" ry="2.9" fill="url(#l3)"/>
<ellipse cx="34.0" cy="439.6" rx="3.0" ry="2.9" fill="url(#l3)"/>
<ellipse cx="34.0" cy="446.9" rx="3.0" ry="2.9" fill="url(#l2)"/>
<ellipse cx="34.0" cy="454.1" rx="3.0" ry="2.9" fill="url(#l3)"/>
<ellipse cx="34.0" cy="461.4" rx="3.0" ry="2.9" fill="url(#l3)"/>
<ellipse cx="34.0" cy="468.8" rx="3.0" ry="2.9" fill="url(#l3)"/>
<rect x="37.7" y="384.8" width="7.4" height="87.6" fill="#000652"/>
<ellipse cx="41.5" cy="388.4" rx="3.9" ry="2.9" fill="url(#l3)"/>
<ellipse cx="41.5" cy="395.8" rx="3.9" ry="2.9" fill="url(#l3)"/>
<ellipse cx="41.5" cy="403.1" rx="3.9" ry="2.9" fill="url(#l2)"/>
<ellipse cx="41.5" cy="410.4" rx="3.9" ry="2.9" fill="url(#l2)"/>
<ellipse cx="41.5" cy="417.7" rx="3.9" ry="2.9" fill="url(#l2)"/>
<ellipse cx="41.5" cy="424.9" rx="3.9" ry="2.9" fill="url(#l2)"/>
<ellipse cx="41.5" cy="432.2" rx="3.9" ry="2.9" fill="url(#l4)"/>
<ellipse cx="41.5" cy="439.6" rx="3.9" ry="2.9" fill="url(#l3)"/>
<ellipse cx="41.5" cy="446.9" rx="3.9" ry="2.9" fill="url(#l3)"/>
<ellipse cx="41.5" cy="454.1" rx="3.9" ry="2.9" fill="url(#l3)"/>
<ellipse cx="41.5" cy="461.4" rx="3.9" ry="2.9" fill="url(#l2)"/>
<ellipse cx="41.5" cy="468.8" rx="3.9" ry="2.9" fill="url(#l2)"/>
<rect x="45.2" y="384.8" width="7.4" height="87.6" fill="#000652"/>
<ellipse cx="48.9" cy="388.4" rx="2.4" ry="3.4" fill="url(#l4)"/>
<ellipse cx="48.9" cy="395.8" rx="2.4" ry="3.4" fill="url(#l3)"/>
<ellipse cx="48.9" cy="403.1" rx="2.4" ry="3.4" fill="url(#l2)"/>
<ellipse cx="48.9" cy="410.4" rx="2.4" ry="3.4" fill="url(#l2)"/>
<ellipse cx="48.9" cy="417.7" rx="2.4" ry="3.4" fill="url(#l1)"/>
<ellipse cx="48.9" cy="424.9" rx="2.4" ry="3.4" fill="url(#l2)"/>
<ellipse cx="48.9" cy="432.2" rx="2.4" ry="3.4" fill="url(#l4)"/>
<ellipse cx="48.9" cy="439.6" rx="2.4" ry="3.4" fill="url(#l3)"/>
<ellipse cx="48.9" cy="446.9" rx="2.4" ry="3.4" fill="url(#l2)"/>
<ellipse cx="48.9" cy="454.1" rx="2.4" ry="3.4" fill="url(#l2)"/>
<ellipse cx="48.9" cy="461.4" rx="2.4" ry="3.4" fill="url(#l2)"/>
<ellipse cx="48.9" cy="468.8" rx="2.4" ry="3.4" fill="url(#l1)"/>
<rect x="52.6" y="384.8" width="7.4" height="87.6" fill="#0212a0"/>
<ellipse cx="56.3" cy="388.4" rx="3.9" ry="2.9" fill="url(#l2)"/>
<ellipse cx="56.3" cy="395.8" rx="3.9" ry="2.9" fill="url(#l2)"/>
<ellipse cx="56.3" cy="403.1" rx="3.9" ry="2.9" fill="url(#l1)"/>
<ellipse cx="56.3" cy="410.4" rx="3.9" ry="2.9" fill="url(#l0)"/>
<ellipse cx="56.3" cy="417.7" rx="3.9" ry="2.9" fill="url(#l0)"/>
<ellipse cx="56.3" cy="424.9" rx="3.9" ry="2.9" fill="url(#l1)"/>
<ellipse cx="56.3" cy="432.2" rx="3.9" ry="2.9" fill="url(#l3)"/>
<ellipse cx="56.3" cy="439.6" rx="3.9" ry="2.9" fill="url(#l2)"/>
<ellipse cx="56.3" cy="446.9" rx="3.9" ry="2.9" fill="url(#l1)"/>
<ellipse cx="56.3" cy="454.1" rx="3.9" ry="2.9" fill="url(#l1)"/>
<ellipse cx="56.3" cy="461.4" rx="3.9" ry="2.9" fill="url(#l1)"/>
<ellipse cx="56.3" cy="468.8" rx="3.9" ry="2.9" fill="url(#l0)"/>
<rect x="60.0" y="384.8" width="7.4" height="87.6" fill="#0c40e8"/>
<rect x="60.8" y="384.8" width="6" height="87.6" fill="#2090ff" opacity="0.9"/>
<rect x="64.9" y="414.7" width="1.4" height="0.9" fill="#c0ffff" opacity="0.85"/>
<rect x="62.2" y="461.9" width="0.9" height="1.1" fill="#c0ffff" opacity="0.85"/>
<rect x="62.4" y="398.5" width="1.1" height="0.8" fill="#2aa0ff" opacity="0.85"/>
<rect x="63.3" y="387.6" width="0.9" height="0.9" fill="#80f4ff" opacity="0.85"/>
<rect x="61.2" y="417.5" width="1.5" height="0.7" fill="#2aa0ff" opacity="0.85"/>
<rect x="65.1" y="407.1" width="0.6" height="0.9" fill="#80f4ff" opacity="0.85"/>
<rect x="61.6" y="408.8" width="0.8" height="1.1" fill="#80f4ff" opacity="0.85"/>
<rect x="61.3" y="388.1" width="1.2" height="0.7" fill="#40d8ff" opacity="0.85"/>
<rect x="61.7" y="403.6" width="1.4" height="1.2" fill="#c0ffff" opacity="0.85"/>
<rect x="64.7" y="392.6" width="1.4" height="0.7" fill="#c0ffff" opacity="0.85"/>
<rect x="61.2" y="393.4" width="1.0" height="0.6" fill="#40d8ff" opacity="0.85"/>
<rect x="64.8" y="468.4" width="0.6" height="1.1" fill="#40d8ff" opacity="0.85"/>
<rect x="63.7" y="464.2" width="0.9" height="0.7" fill="#80f4ff" opacity="0.85"/>
<rect x="61.0" y="411.6" width="1.1" height="0.9" fill="#80f4ff" opacity="0.85"/>
<rect x="62.4" y="424.3" width="1.3" height="0.5" fill="#80f4ff" opacity="0.85"/>
<rect x="62.3" y="454.6" width="1.0" height="0.8" fill="#c0ffff" opacity="0.85"/>
<rect x="61.0" y="450.0" width="1.6" height="0.5" fill="#2aa0ff" opacity="0.85"/>
<rect x="61.9" y="443.9" width="1.1" height="0.6" fill="#80f4ff" opacity="0.85"/>
<rect x="65.4" y="422.4" width="1.3" height="0.8" fill="#40d8ff" opacity="0.85"/>
<rect x="61.2" y="427.6" width="1.5" height="0.8" fill="#40d8ff" opacity="0.85"/>
<rect x="64.8" y="404.0" width="1.0" height="1.0" fill="#c0ffff" opacity="0.85"/>
<rect x="64.5" y="466.5" width="1.3" height="1.0" fill="#80f4ff" opacity="0.85"/>
<rect x="62.7" y="404.7" width="0.9" height="0.9" fill="#80f4ff" opacity="0.85"/>
<rect x="64.1" y="398.9" width="1.0" height="0.7" fill="#2aa0ff" opacity="0.85"/>
<rect x="61.3" y="462.0" width="1.3" height="0.6" fill="#40d8ff" opacity="0.85"/>
<rect x="63.2" y="389.5" width="1.2" height="0.7" fill="#40d8ff" opacity="0.85"/>
<rect x="65.4" y="428.6" width="1.4" height="0.7" fill="#80f4ff" opacity="0.85"/>
<rect x="62.4" y="417.2" width="0.6" height="1.0" fill="#c0ffff" opacity="0.85"/>
<rect x="61.4" y="420.5" width="1.5" height="1.1" fill="#80f4ff" opacity="0.85"/>
<rect x="62.8" y="446.8" width="1.1" height="0.5" fill="#40d8ff" opacity="0.85"/>
<rect x="65.0" y="464.0" width="0.7" height="1.2" fill="#80f4ff" opacity="0.85"/>
<rect x="63.8" y="432.4" width="1.3" height="0.9" fill="#40d8ff" opacity="0.85"/>
<rect x="64.4" y="412.9" width="0.9" height="0.5" fill="#40d8ff" opacity="0.85"/>
<rect x="64.3" y="447.1" width="0.8" height="1.1" fill="#2aa0ff" opacity="0.85"/>
<rect x="61.7" y="425.9" width="1.0" height="1.1" fill="#c0ffff" opacity="0.85"/>
<rect x="65.5" y="403.1" width="1.2" height="1.1" fill="#c0ffff" opacity="0.85"/>
<rect x="65.5" y="457.2" width="1.2" height="0.9" fill="#80f4ff" opacity="0.85"/>
<rect x="62.3" y="413.9" width="1.6" height="0.6" fill="#2aa0ff" opacity="0.85"/>
<rect x="63.1" y="385.8" width="1.2" height="1.1" fill="#80f4ff" opacity="0.85"/>
<rect x="61.4" y="417.9" width="0.7" height="0.9" fill="#2aa0ff" opacity="0.85"/>
<rect x="61.8" y="458.8" width="1.0" height="1.1" fill="#40d8ff" opacity="0.85"/>
<rect x="65.7" y="403.3" width="0.8" height="0.8" fill="#40d8ff" opacity="0.85"/>
<rect x="62.1" y="422.9" width="1.2" height="0.6" fill="#40d8ff" opacity="0.85"/>
<rect x="65.5" y="428.9" width="1.4" height="0.9" fill="#2aa0ff" opacity="0.85"/>
<rect x="64.6" y="427.0" width="1.1" height="1.1" fill="#80f4ff" opacity="0.85"/>
<rect x="61.8" y="463.3" width="0.9" height="1.1" fill="#40d8ff" opacity="0.85"/>
<rect x="63.5" y="406.8" width="0.7" height="0.9" fill="#c0ffff" opacity="0.85"/>
<rect x="64.8" y="396.9" width="0.7" height="0.7" fill="#2aa0ff" opacity="0.85"/>
<rect x="64.7" y="446.8" width="1.4" height="0.9" fill="#c0ffff" opacity="0.85"/>
<rect x="61.8" y="465.8" width="1.4" height="0.9" fill="#c0ffff" opacity="0.85"/>
<rect x="61.1" y="430.2" width="0.8" height="0.6" fill="#c0ffff" opacity="0.85"/>
<rect x="62.2" y="465.8" width="1.0" height="1.0" fill="#40d8ff" opacity="0.85"/>
<rect x="63.0" y="401.7" width="1.4" height="1.0" fill="#80f4ff" opacity="0.85"/>
<rect x="61.8" y="423.5" width="1.4" height="0.7" fill="#2aa0ff" opacity="0.85"/>
<rect x="62.9" y="438.5" width="1.2" height="0.9" fill="#80f4ff" opacity="0.85"/>
<rect x="63.6" y="421.7" width="1.2" height="0.8" fill="#2aa0ff" opacity="0.85"/>
<rect x="63.0" y="437.4" width="0.7" height="1.1" fill="#80f4ff" opacity="0.85"/>
<rect x="65.5" y="420.3" width="1.3" height="0.8" fill="#2aa0ff" opacity="0.85"/>
<rect x="62.0" y="421.9" width="0.8" height="1.1" fill="#40d8ff" opacity="0.85"/>
<rect x="65.1" y="403.2" width="1.4" height="1.1" fill="#80f4ff" opacity="0.85"/>
<rect x="61.0" y="427.8" width="0.8" height="1.0" fill="#40d8ff" opacity="0.85"/>
<rect x="62.8" y="400.6" width="1.2" height="1.1" fill="#c0ffff" opacity="0.85"/>
<rect x="61.1" y="467.5" width="1.4" height="1.2" fill="#80f4ff" opacity="0.85"/>
<rect x="63.2" y="427.5" width="0.7" height="0.7" fill="#c0ffff" opacity="0.85"/>
<rect x="63.7" y="408.2" width="1.3" height="0.8" fill="#40d8ff" opacity="0.85"/>
<rect x="65.0" y="437.8" width="1.2" height="1.1" fill="#c0ffff" opacity="0.85"/>
<rect x="61.3" y="419.9" width="1.0" height="0.7" fill="#80f4ff" opacity="0.85"/>
<rect x="65.7" y="429.7" width="1.4" height="0.7" fill="#c0ffff" opacity="0.85"/>
<rect x="63.5" y="413.8" width="1.4" height="0.9" fill="#80f4ff" opacity="0.85"/>
<rect x="62.3" y="441.7" width="1.6" height="1.0" fill="#40d8ff" opacity="0.85"/>
<ellipse cx="63.8" cy="388.8" rx="3.6" ry="3.4" fill="url(#l3)" opacity="0.9"/>
<polygon points="60.5,390.8 63.8,385.6 67.0,390.8" fill="#90f4ff" opacity="0.85"/>
<line x1="60.5" y1="390.9" x2="67.0" y2="390.9" stroke="#e8ffff" stroke-width="0.7"/>
<ellipse cx="63.8" cy="388.8" rx="1.2" ry="1.1" fill="#ffff60"/>
<ellipse cx="63.8" cy="396.1" rx="3.6" ry="3.4" fill="url(#l3)" opacity="0.9"/>
<polygon points="60.5,398.1 63.8,392.9 67.0,398.1" fill="#90f4ff" opacity="0.85"/>
<line x1="60.5" y1="398.2" x2="67.0" y2="398.2" stroke="#e8ffff" stroke-width="0.7"/>
<ellipse cx="63.8" cy="396.1" rx="1.2" ry="1.1" fill="#ffff60"/>
<ellipse cx="63.8" cy="403.4" rx="3.6" ry="3.4" fill="url(#l3)" opacity="0.9"/>
<polygon points="60.5,405.4 63.8,400.2 67.0,405.4" fill="#90f4ff" opacity="0.85"/>
<line x1="60.5" y1="405.6" x2="67.0" y2="405.6" stroke="#e8ffff" stroke-width="0.7"/>
<ellipse cx="63.8" cy="403.4" rx="1.2" ry="1.1" fill="#ffff60"/>
<ellipse cx="63.8" cy="410.7" rx="3.6" ry="3.4" fill="url(#l2)" opacity="0.9"/>
<polygon points="60.5,412.7 63.8,407.5 67.0,412.7" fill="#90f4ff" opacity="0.85"/>
<line x1="60.5" y1="412.9" x2="67.0" y2="412.9" stroke="#e8ffff" stroke-width="0.7"/>
<ellipse cx="63.8" cy="418.0" rx="3.6" ry="3.4" fill="url(#l2)" opacity="0.9"/>
<polygon points="60.5,420.0 63.8,414.8 67.0,420.0" fill="#90f4ff" opacity="0.85"/>
<line x1="60.5" y1="420.2" x2="67.0" y2="420.2" stroke="#e8ffff" stroke-width="0.7"/>
<ellipse cx="63.8" cy="425.2" rx="3.6" ry="3.4" fill="url(#l3)" opacity="0.9"/>
<polygon points="60.5,427.2 63.8,422.1 67.0,427.2" fill="#90f4ff" opacity="0.85"/>
<line x1="60.5" y1="427.4" x2="67.0" y2="427.4" stroke="#e8ffff" stroke-width="0.7"/>
<ellipse cx="63.8" cy="425.3" rx="1.2" ry="1.1" fill="#ffff60"/>
<ellipse cx="63.8" cy="432.6" rx="3.6" ry="3.4" fill="url(#l3)" opacity="0.9"/>
<polygon points="60.5,434.6 63.8,429.4 67.0,434.6" fill="#90f4ff" opacity="0.85"/>
<line x1="60.5" y1="434.8" x2="67.0" y2="434.8" stroke="#e8ffff" stroke-width="0.7"/>
<ellipse cx="63.8" cy="432.6" rx="1.2" ry="1.1" fill="#ffa020"/>
<ellipse cx="63.8" cy="439.9" rx="3.6" ry="3.4" fill="url(#l3)" opacity="0.9"/>
<polygon points="60.5,441.9 63.8,436.7 67.0,441.9" fill="#90f4ff" opacity="0.85"/>
<line x1="60.5" y1="442.1" x2="67.0" y2="442.1" stroke="#e8ffff" stroke-width="0.7"/>
<ellipse cx="63.8" cy="439.9" rx="1.2" ry="1.1" fill="#ffff60"/>
<ellipse cx="63.8" cy="447.2" rx="3.6" ry="3.4" fill="url(#l3)" opacity="0.9"/>
<polygon points="60.5,449.2 63.8,444.0 67.0,449.2" fill="#90f4ff" opacity="0.85"/>
<line x1="60.5" y1="449.4" x2="67.0" y2="449.4" stroke="#e8ffff" stroke-width="0.7"/>
<ellipse cx="63.8" cy="447.2" rx="1.2" ry="1.1" fill="#ffa020"/>
<ellipse cx="63.8" cy="454.4" rx="3.6" ry="3.4" fill="url(#l3)" opacity="0.9"/>
<polygon points="60.5,456.4 63.8,451.2 67.0,456.4" fill="#90f4ff" opacity="0.85"/>
<line x1="60.5" y1="456.6" x2="67.0" y2="456.6" stroke="#e8ffff" stroke-width="0.7"/>
<ellipse cx="63.8" cy="454.5" rx="1.2" ry="1.1" fill="#ffff60"/>
<ellipse cx="63.8" cy="461.8" rx="3.6" ry="3.4" fill="url(#l3)" opacity="0.9"/>
<polygon points="60.5,463.8 63.8,458.6 67.0,463.8" fill="#90f4ff" opacity="0.85"/>
<line x1="60.5" y1="463.9" x2="67.0" y2="463.9" stroke="#e8ffff" stroke-width="0.7"/>
<ellipse cx="63.8" cy="461.8" rx="1.2" ry="1.1" fill="#ffff60"/>
<ellipse cx="63.8" cy="469.1" rx="3.6" ry="3.4" fill="url(#l2)" opacity="0.9"/>
<polygon points="60.5,471.1 63.8,465.9 67.0,471.1" fill="#90f4ff" opacity="0.85"/>
<line x1="60.5" y1="471.2" x2="67.0" y2="471.2" stroke="#e8ffff" stroke-width="0.7"/>
<rect x="67.5" y="384.8" width="7.4" height="87.6" fill="#0212a0"/>
<ellipse cx="71.2" cy="388.4" rx="3.0" ry="2.9" fill="url(#l2)"/>
<ellipse cx="71.2" cy="395.8" rx="3.0" ry="2.9" fill="url(#l3)"/>
<ellipse cx="71.2" cy="403.1" rx="3.0" ry="2.9" fill="url(#l1)"/>
<ellipse cx="71.2" cy="410.4" rx="3.0" ry="2.9" fill="url(#l1)"/>
<ellipse cx="71.2" cy="417.7" rx="3.0" ry="2.9" fill="url(#l1)"/>
<ellipse cx="71.2" cy="424.9" rx="3.0" ry="2.9" fill="url(#l2)"/>
<ellipse cx="71.2" cy="432.2" rx="3.0" ry="2.9" fill="url(#l2)"/>
<ellipse cx="71.2" cy="439.6" rx="3.0" ry="2.9" fill="url(#l1)"/>
<ellipse cx="71.2" cy="446.9" rx="3.0" ry="2.9" fill="url(#l2)"/>
<ellipse cx="71.2" cy="454.1" rx="3.0" ry="2.9" fill="url(#l1)"/>
<ellipse cx="71.2" cy="461.4" rx="3.0" ry="2.9" fill="url(#l3)"/>
<ellipse cx="71.2" cy="468.8" rx="3.0" ry="2.9" fill="url(#l2)"/>
<rect x="74.9" y="384.8" width="7.4" height="87.6" fill="#000652"/>
<ellipse cx="78.6" cy="388.4" rx="2.4" ry="2.3" fill="url(#l2)"/>
<ellipse cx="78.6" cy="395.8" rx="2.4" ry="2.3" fill="url(#l2)"/>
<ellipse cx="78.6" cy="403.1" rx="2.4" ry="2.3" fill="url(#l2)"/>
<ellipse cx="78.6" cy="410.4" rx="2.4" ry="2.3" fill="url(#l2)"/>
<ellipse cx="78.6" cy="417.7" rx="2.4" ry="2.3" fill="url(#l2)"/>
<ellipse cx="78.6" cy="424.9" rx="2.4" ry="2.3" fill="url(#l2)"/>
<ellipse cx="78.6" cy="432.2" rx="2.4" ry="2.3" fill="url(#l3)"/>
<ellipse cx="78.6" cy="439.6" rx="2.4" ry="2.3" fill="url(#l3)"/>
<ellipse cx="78.6" cy="446.9" rx="2.4" ry="2.3" fill="url(#l3)"/>
<ellipse cx="78.6" cy="454.1" rx="2.4" ry="2.3" fill="url(#l3)"/>
<ellipse cx="78.6" cy="461.4" rx="2.4" ry="2.3" fill="url(#l2)"/>
<ellipse cx="78.6" cy="468.8" rx="2.4" ry="2.3" fill="url(#l2)"/>
<rect x="82.3" y="384.8" width="7.4" height="87.6" fill="#000652"/>
<ellipse cx="86.0" cy="388.4" rx="2.4" ry="2.3" fill="url(#l2)"/>
<ellipse cx="86.0" cy="395.8" rx="2.4" ry="2.3" fill="url(#l1)"/>
<ellipse cx="86.0" cy="403.1" rx="2.4" ry="2.3" fill="url(#l1)"/>
<ellipse cx="86.0" cy="410.4" rx="2.4" ry="2.3" fill="url(#l1)"/>
<ellipse cx="86.0" cy="417.7" rx="2.4" ry="2.3" fill="url(#l1)"/>
<ellipse cx="86.0" cy="424.9" rx="2.4" ry="2.3" fill="url(#l1)"/>
<ellipse cx="86.0" cy="432.2" rx="2.4" ry="2.3" fill="url(#l3)"/>
<ellipse cx="86.0" cy="439.6" rx="2.4" ry="2.3" fill="url(#l3)"/>
<ellipse cx="86.0" cy="446.9" rx="2.4" ry="2.3" fill="url(#l3)"/>
<ellipse cx="86.0" cy="454.1" rx="2.4" ry="2.3" fill="url(#l3)"/>
<ellipse cx="86.0" cy="461.4" rx="2.4" ry="2.3" fill="url(#l1)"/>
<ellipse cx="86.0" cy="468.8" rx="2.4" ry="2.3" fill="url(#l1)"/>
<rect x="89.8" y="384.8" width="7.4" height="87.6" fill="#000652"/>
<ellipse cx="93.5" cy="388.4" rx="2.4" ry="2.3" fill="url(#l2)"/>
<ellipse cx="93.5" cy="395.8" rx="2.4" ry="2.3" fill="url(#l2)"/>
<ellipse cx="93.5" cy="403.1" rx="2.4" ry="2.3" fill="url(#l2)"/>
<ellipse cx="93.5" cy="410.4" rx="2.4" ry="2.3" fill="url(#l1)"/>
<ellipse cx="93.5" cy="417.7" rx="2.4" ry="2.3" fill="url(#l2)"/>
<ellipse cx="93.5" cy="424.9" rx="2.4" ry="2.3" fill="url(#l2)"/>
<ellipse cx="93.5" cy="432.2" rx="2.4" ry="2.3" fill="url(#l2)"/>
<ellipse cx="93.5" cy="439.6" rx="2.4" ry="2.3" fill="url(#l2)"/>
<ellipse cx="93.5" cy="446.9" rx="2.4" ry="2.3" fill="url(#l4)"/>
<ellipse cx="93.5" cy="454.1" rx="2.4" ry="2.3" fill="url(#l3)"/>
<ellipse cx="93.5" cy="461.4" rx="2.4" ry="2.3" fill="url(#l2)"/>
<ellipse cx="93.5" cy="468.8" rx="2.4" ry="2.3" fill="url(#l2)"/>
<rect x="97.2" y="384.8" width="7.4" height="87.6" fill="#000652"/>
<ellipse cx="100.9" cy="388.4" rx="2.4" ry="2.3" fill="url(#l1)"/>
<ellipse cx="100.9" cy="395.8" rx="2.4" ry="2.3" fill="url(#l1)"/>
<ellipse cx="100.9" cy="403.1" rx="2.4" ry="2.3" fill="url(#l1)"/>
<ellipse cx="100.9" cy="410.4" rx="2.4" ry="2.3" fill="url(#l1)"/>
<ellipse cx="100.9" cy="417.7" rx="2.4" ry="2.3" fill="url(#l1)"/>
<ellipse cx="100.9" cy="424.9" rx="2.4" ry="2.3" fill="url(#l1)"/>
<ellipse cx="100.9" cy="432.2" rx="2.4" ry="2.3" fill="url(#l1)"/>
<ellipse cx="100.9" cy="439.6" rx="2.4" ry="2.3" fill="url(#l1)"/>
<ellipse cx="100.9" cy="446.9" rx="2.4" ry="2.3" fill="url(#l3)"/>
<ellipse cx="100.9" cy="454.1" rx="2.4" ry="2.3" fill="url(#l2)"/>
<ellipse cx="100.9" cy="461.4" rx="2.4" ry="2.3" fill="url(#l1)"/>
<ellipse cx="100.9" cy="468.8" rx="2.4" ry="2.3" fill="url(#l0)"/>
<rect x="104.6" y="384.8" width="7.4" height="87.6" fill="#000652"/>
<ellipse cx="108.3" cy="388.4" rx="2.4" ry="2.3" fill="url(#l2)"/>
<ellipse cx="108.3" cy="395.8" rx="2.4" ry="2.3" fill="url(#l2)"/>
<ellipse cx="108.3" cy="403.1" rx="2.4" ry="2.3" fill="url(#l2)"/>
<ellipse cx="108.3" cy="410.4" rx="2.4" ry="2.3" fill="url(#l2)"/>
<ellipse cx="108.3" cy="417.7" rx="2.4" ry="2.3" fill="url(#l1)"/>
<ellipse cx="108.3" cy="424.9" rx="2.4" ry="2.3" fill="url(#l2)"/>
<ellipse cx="108.3" cy="432.2" rx="2.4" ry="2.3" fill="url(#l3)"/>
<ellipse cx="108.3" cy="439.6" rx="2.4" ry="2.3" fill="url(#l3)"/>
<ellipse cx="108.3" cy="446.9" rx="2.4" ry="2.3" fill="url(#l3)"/>
<ellipse cx="108.3" cy="454.1" rx="2.4" ry="2.3" fill="url(#l3)"/>
<ellipse cx="108.3" cy="461.4" rx="2.4" ry="2.3" fill="url(#l2)"/>
<ellipse cx="108.3" cy="468.8" rx="2.4" ry="2.3" fill="url(#l2)"/>
<rect x="112.0" y="384.8" width="7.4" height="87.6" fill="#000652"/>
<ellipse cx="115.8" cy="388.4" rx="3.9" ry="2.9" fill="url(#l2)"/>
<ellipse cx="115.8" cy="395.8" rx="3.9" ry="2.9" fill="url(#l1)"/>
<ellipse cx="115.8" cy="403.1" rx="3.9" ry="2.9" fill="url(#l1)"/>
<ellipse cx="115.8" cy="410.4" rx="3.9" ry="2.9" fill="url(#l1)"/>
<ellipse cx="115.8" cy="417.7" rx="3.9" ry="2.9" fill="url(#l1)"/>
<ellipse cx="115.8" cy="424.9" rx="3.9" ry="2.9" fill="url(#l1)"/>
<ellipse cx="115.8" cy="432.2" rx="3.9" ry="2.9" fill="url(#l3)"/>
<ellipse cx="115.8" cy="439.6" rx="3.9" ry="2.9" fill="url(#l3)"/>
<ellipse cx="115.8" cy="446.9" rx="3.9" ry="2.9" fill="url(#l3)"/>
<ellipse cx="115.8" cy="454.1" rx="3.9" ry="2.9" fill="url(#l3)"/>
<ellipse cx="115.8" cy="461.4" rx="3.9" ry="2.9" fill="url(#l1)"/>
<ellipse cx="115.8" cy="468.8" rx="3.9" ry="2.9" fill="url(#l1)"/>
<rect x="119.5" y="384.8" width="7.4" height="87.6" fill="#000018"/>
<ellipse cx="123.2" cy="388.4" rx="3.0" ry="2.9" fill="url(#l1)"/>
<ellipse cx="123.2" cy="395.8" rx="3.0" ry="2.9" fill="url(#l1)"/>
<ellipse cx="123.2" cy="403.1" rx="3.0" ry="2.9" fill="url(#l1)"/>
<ellipse cx="123.2" cy="410.4" rx="3.0" ry="2.9" fill="url(#l1)"/>
<ellipse cx="123.2" cy="417.7" rx="3.0" ry="2.9" fill="url(#l0)"/>
<ellipse cx="123.2" cy="424.9" rx="3.0" ry="2.9" fill="url(#l1)"/>
<ellipse cx="123.2" cy="432.2" rx="3.0" ry="2.9" fill="url(#l4)"/>
<ellipse cx="123.2" cy="439.6" rx="3.0" ry="2.9" fill="url(#l3)"/>
<ellipse cx="123.2" cy="446.9" rx="3.0" ry="2.9" fill="url(#l3)"/>
<ellipse cx="123.2" cy="454.1" rx="3.0" ry="2.9" fill="url(#l3)"/>
<ellipse cx="123.2" cy="461.4" rx="3.0" ry="2.9" fill="url(#l1)"/>
<ellipse cx="123.2" cy="468.8" rx="3.0" ry="2.9" fill="url(#l1)"/>
<rect x="126.9" y="384.8" width="7.4" height="87.6" fill="#0212a0"/>
<ellipse cx="130.6" cy="388.4" rx="3.0" ry="2.9" fill="url(#l1)"/>
<ellipse cx="130.6" cy="395.8" rx="3.0" ry="2.9" fill="url(#l4)"/>
<ellipse cx="130.6" cy="403.1" rx="3.0" ry="2.9" fill="url(#l3)"/>
<ellipse cx="130.6" cy="410.4" rx="3.0" ry="2.9" fill="url(#l1)"/>
<ellipse cx="130.6" cy="417.7" rx="3.0" ry="2.9" fill="url(#l1)"/>
<ellipse cx="130.6" cy="424.9" rx="3.0" ry="2.9" fill="url(#l2)"/>
<ellipse cx="130.6" cy="432.2" rx="3.0" ry="2.9" fill="url(#l2)"/>
<ellipse cx="130.6" cy="439.6" rx="3.0" ry="2.9" fill="url(#l1)"/>
<ellipse cx="130.6" cy="446.9" rx="3.0" ry="2.9" fill="url(#l2)"/>
<ellipse cx="130.6" cy="454.1" rx="3.0" ry="2.9" fill="url(#l1)"/>
<ellipse cx="130.6" cy="461.4" rx="3.0" ry="2.9" fill="url(#l4)"/>
<ellipse cx="130.6" cy="468.8" rx="3.0" ry="2.9" fill="url(#l2)"/>
<rect x="134.3" y="384.8" width="7.4" height="87.6" fill="#0212a0"/>
<ellipse cx="138.0" cy="388.4" rx="3.0" ry="2.9" fill="url(#l3)"/>
<ellipse cx="138.0" cy="395.8" rx="3.0" ry="2.9" fill="url(#l4)"/>
<ellipse cx="138.0" cy="403.1" rx="3.0" ry="2.9" fill="url(#l3)"/>
<ellipse cx="138.0" cy="410.4" rx="3.0" ry="2.9" fill="url(#l3)"/>
<ellipse cx="138.0" cy="417.7" rx="3.0" ry="2.9" fill="url(#l3)"/>
<ellipse cx="138.0" cy="424.9" rx="3.0" ry="2.9" fill="url(#l3)"/>
<ellipse cx="138.0" cy="432.2" rx="3.0" ry="2.9" fill="url(#l3)"/>
<ellipse cx="138.0" cy="439.6" rx="3.0" ry="2.9" fill="url(#l3)"/>
<ellipse cx="138.0" cy="446.9" rx="3.0" ry="2.9" fill="url(#l3)"/>
<ellipse cx="138.0" cy="454.1" rx="3.0" ry="2.9" fill="url(#l3)"/>
<ellipse cx="138.0" cy="461.4" rx="3.0" ry="2.9" fill="url(#l3)"/>
<ellipse cx="138.0" cy="468.8" rx="3.0" ry="2.9" fill="url(#l3)"/>
<rect x="141.8" y="384.8" width="7.4" height="87.6" fill="#000018"/>
<ellipse cx="145.5" cy="388.4" rx="2.4" ry="2.3" fill="url(#l3)"/>
<ellipse cx="145.5" cy="395.8" rx="2.4" ry="2.3" fill="url(#l3)"/>
<ellipse cx="145.5" cy="403.1" rx="2.4" ry="2.3" fill="url(#l3)"/>
<ellipse cx="145.5" cy="410.4" rx="2.4" ry="2.3" fill="url(#l3)"/>
<ellipse cx="145.5" cy="417.7" rx="2.4" ry="2.3" fill="url(#l3)"/>
<ellipse cx="145.5" cy="424.9" rx="2.4" ry="2.3" fill="url(#l3)"/>
<ellipse cx="145.5" cy="432.2" rx="2.4" ry="2.3" fill="url(#l4)"/>
<ellipse cx="145.5" cy="439.6" rx="2.4" ry="2.3" fill="url(#l4)"/>
<ellipse cx="145.5" cy="446.9" rx="2.4" ry="2.3" fill="url(#l3)"/>
<ellipse cx="145.5" cy="454.1" rx="2.4" ry="2.3" fill="url(#l3)"/>
<ellipse cx="145.5" cy="461.4" rx="2.4" ry="2.3" fill="url(#l3)"/>
<ellipse cx="145.5" cy="468.8" rx="2.4" ry="2.3" fill="url(#l3)"/>
<rect x="149.2" y="384.8" width="7.4" height="87.6" fill="#0212a0"/>
<ellipse cx="152.9" cy="388.4" rx="3.9" ry="2.0" fill="url(#l1)"/>
<ellipse cx="152.9" cy="395.8" rx="3.9" ry="2.0" fill="url(#l1)"/>
<ellipse cx="152.9" cy="403.1" rx="3.9" ry="2.0" fill="url(#l2)"/>
<ellipse cx="152.9" cy="410.4" rx="3.9" ry="2.0" fill="url(#l2)"/>
<ellipse cx="152.9" cy="417.7" rx="3.9" ry="2.0" fill="url(#l1)"/>
<ellipse cx="152.9" cy="424.9" rx="3.9" ry="2.0" fill="url(#l1)"/>
<ellipse cx="152.9" cy="432.2" rx="3.9" ry="2.0" fill="url(#l3)"/>
<ellipse cx="152.9" cy="439.6" rx="3.9" ry="2.0" fill="url(#l3)"/>
<ellipse cx="152.9" cy="446.9" rx="3.9" ry="2.0" fill="url(#l3)"/>
<ellipse cx="152.9" cy="454.1" rx="3.9" ry="2.0" fill="url(#l3)"/>
<ellipse cx="152.9" cy="461.4" rx="3.9" ry="2.0" fill="url(#l1)"/>
<ellipse cx="152.9" cy="468.8" rx="3.9" ry="2.0" fill="url(#l1)"/>
<rect x="156.6" y="384.8" width="7.4" height="87.6" fill="#0212a0"/>
<ellipse cx="160.3" cy="388.4" rx="3.0" ry="2.9" fill="url(#l2)"/>
<ellipse cx="160.3" cy="395.8" rx="3.0" ry="2.9" fill="url(#l2)"/>
<ellipse cx="160.3" cy="403.1" rx="3.0" ry="2.9" fill="url(#l2)"/>
<ellipse cx="160.3" cy="410.4" rx="3.0" ry="2.9" fill="url(#l2)"/>
<ellipse cx="160.3" cy="417.7" rx="3.0" ry="2.9" fill="url(#l2)"/>
<ellipse cx="160.3" cy="424.9" rx="3.0" ry="2.9" fill="url(#l2)"/>
<ellipse cx="160.3" cy="432.2" rx="3.0" ry="2.9" fill="url(#l2)"/>
<ellipse cx="160.3" cy="439.6" rx="3.0" ry="2.9" fill="url(#l2)"/>
<ellipse cx="160.3" cy="446.9" rx="3.0" ry="2.9" fill="url(#l4)"/>
<ellipse cx="160.3" cy="454.1" rx="3.0" ry="2.9" fill="url(#l3)"/>
<ellipse cx="160.3" cy="461.4" rx="3.0" ry="2.9" fill="url(#l2)"/>
<ellipse cx="160.3" cy="468.8" rx="3.0" ry="2.9" fill="url(#l2)"/>
<rect x="164.1" y="384.8" width="7.4" height="87.6" fill="#0212a0"/>
<ellipse cx="167.8" cy="388.4" rx="2.4" ry="3.4" fill="url(#l2)"/>
<ellipse cx="167.8" cy="395.8" rx="2.4" ry="3.4" fill="url(#l2)"/>
<ellipse cx="167.8" cy="403.1" rx="2.4" ry="3.4" fill="url(#l4)"/>
<ellipse cx="167.8" cy="410.4" rx="2.4" ry="3.4" fill="url(#l2)"/>
<ellipse cx="167.8" cy="417.7" rx="2.4" ry="3.4" fill="url(#l2)"/>
<ellipse cx="167.8" cy="424.9" rx="2.4" ry="3.4" fill="url(#l2)"/>
<ellipse cx="167.8" cy="432.2" rx="2.4" ry="3.4" fill="url(#l2)"/>
<ellipse cx="167.8" cy="439.6" rx="2.4" ry="3.4" fill="url(#l2)"/>
<ellipse cx="167.8" cy="446.9" rx="2.4" ry="3.4" fill="url(#l2)"/>
<ellipse cx="167.8" cy="454.1" rx="2.4" ry="3.4" fill="url(#l2)"/>
<ellipse cx="167.8" cy="461.4" rx="2.4" ry="3.4" fill="url(#l2)"/>
<ellipse cx="167.8" cy="468.8" rx="2.4" ry="3.4" fill="url(#l2)"/>
<rect x="171.5" y="384.8" width="7.4" height="87.6" fill="#0212a0"/>
<ellipse cx="175.2" cy="388.4" rx="3.0" ry="2.9" fill="url(#l2)"/>
<ellipse cx="175.2" cy="395.8" rx="3.0" ry="2.9" fill="url(#l3)"/>
<ellipse cx="175.2" cy="403.1" rx="3.0" ry="2.9" fill="url(#l3)"/>
<ellipse cx="175.2" cy="410.4" rx="3.0" ry="2.9" fill="url(#l2)"/>
<ellipse cx="175.2" cy="417.7" rx="3.0" ry="2.9" fill="url(#l2)"/>
<ellipse cx="175.2" cy="424.9" rx="3.0" ry="2.9" fill="url(#l2)"/>
<ellipse cx="175.2" cy="432.2" rx="3.0" ry="2.9" fill="url(#l3)"/>
<ellipse cx="175.2" cy="439.6" rx="3.0" ry="2.9" fill="url(#l2)"/>
<ellipse cx="175.2" cy="446.9" rx="3.0" ry="2.9" fill="url(#l4)"/>
<ellipse cx="175.2" cy="454.1" rx="3.0" ry="2.9" fill="url(#l2)"/>
<ellipse cx="175.2" cy="461.4" rx="3.0" ry="2.9" fill="url(#l3)"/>
<ellipse cx="175.2" cy="468.8" rx="3.0" ry="2.9" fill="url(#l2)"/>
<rect x="178.9" y="384.8" width="7.4" height="87.6" fill="#0212a0"/>
<ellipse cx="182.6" cy="388.4" rx="3.0" ry="2.9" fill="url(#l2)"/>
<ellipse cx="182.6" cy="395.8" rx="3.0" ry="2.9" fill="url(#l1)"/>
<ellipse cx="182.6" cy="403.1" rx="3.0" ry="2.9" fill="url(#l2)"/>
<ellipse cx="182.6" cy="410.4" rx="3.0" ry="2.9" fill="url(#l1)"/>
<ellipse cx="182.6" cy="417.7" rx="3.0" ry="2.9" fill="url(#l1)"/>
<ellipse cx="182.6" cy="424.9" rx="3.0" ry="2.9" fill="url(#l1)"/>
<ellipse cx="182.6" cy="432.2" rx="3.0" ry="2.9" fill="url(#l3)"/>
<ellipse cx="182.6" cy="439.6" rx="3.0" ry="2.9" fill="url(#l3)"/>
<ellipse cx="182.6" cy="446.9" rx="3.0" ry="2.9" fill="url(#l3)"/>
<ellipse cx="182.6" cy="454.1" rx="3.0" ry="2.9" fill="url(#l3)"/>
<ellipse cx="182.6" cy="461.4" rx="3.0" ry="2.9" fill="url(#l1)"/>
<ellipse cx="182.6" cy="468.8" rx="3.0" ry="2.9" fill="url(#l1)"/>
<rect x="186.3" y="384.8" width="7.4" height="87.6" fill="#000018"/>
<ellipse cx="190.1" cy="388.4" rx="3.9" ry="2.0" fill="url(#l1)"/>
<ellipse cx="190.1" cy="395.8" rx="3.9" ry="2.0" fill="url(#l4)"/>
<ellipse cx="190.1" cy="403.1" rx="3.9" ry="2.0" fill="url(#l1)"/>
<ellipse cx="190.1" cy="410.4" rx="3.9" ry="2.0" fill="url(#l1)"/>
<ellipse cx="190.1" cy="417.7" rx="3.9" ry="2.0" fill="url(#l1)"/>
<ellipse cx="190.1" cy="424.9" rx="3.9" ry="2.0" fill="url(#l0)"/>
<ellipse cx="190.1" cy="432.2" rx="3.9" ry="2.0" fill="url(#l3)"/>
<ellipse cx="190.1" cy="439.6" rx="3.9" ry="2.0" fill="url(#l1)"/>
<ellipse cx="190.1" cy="446.9" rx="3.9" ry="2.0" fill="url(#l1)"/>
<ellipse cx="190.1" cy="454.1" rx="3.9" ry="2.0" fill="url(#l1)"/>
<ellipse cx="190.1" cy="461.4" rx="3.9" ry="2.0" fill="url(#l2)"/>
<ellipse cx="190.1" cy="468.8" rx="3.9" ry="2.0" fill="url(#l1)"/>
<rect x="193.8" y="384.8" width="7.4" height="87.6" fill="#0212a0"/>
<ellipse cx="197.5" cy="388.4" rx="2.4" ry="3.4" fill="url(#l2)"/>
<ellipse cx="197.5" cy="395.8" rx="2.4" ry="3.4" fill="url(#l2)"/>
<ellipse cx="197.5" cy="403.1" rx="2.4" ry="3.4" fill="url(#l2)"/>
<ellipse cx="197.5" cy="410.4" rx="2.4" ry="3.4" fill="url(#l2)"/>
<ellipse cx="197.5" cy="417.7" rx="2.4" ry="3.4" fill="url(#l2)"/>
<ellipse cx="197.5" cy="424.9" rx="2.4" ry="3.4" fill="url(#l2)"/>
<ellipse cx="197.5" cy="432.2" rx="2.4" ry="3.4" fill="url(#l3)"/>
<ellipse cx="197.5" cy="439.6" rx="2.4" ry="3.4" fill="url(#l3)"/>
<ellipse cx="197.5" cy="446.9" rx="2.4" ry="3.4" fill="url(#l4)"/>
<ellipse cx="197.5" cy="454.1" rx="2.4" ry="3.4" fill="url(#l3)"/>
<ellipse cx="197.5" cy="461.4" rx="2.4" ry="3.4" fill="url(#l2)"/>
<ellipse cx="197.5" cy="468.8" rx="2.4" ry="3.4" fill="url(#l2)"/>
<rect x="201.2" y="384.8" width="7.4" height="87.6" fill="#0212a0"/>
<ellipse cx="204.9" cy="388.4" rx="3.9" ry="2.9" fill="url(#l3)"/>
<ellipse cx="204.9" cy="395.8" rx="3.9" ry="2.9" fill="url(#l3)"/>
<ellipse cx="204.9" cy="403.1" rx="3.9" ry="2.9" fill="url(#l3)"/>
<ellipse cx="204.9" cy="410.4" rx="3.9" ry="2.9" fill="url(#l3)"/>
<ellipse cx="204.9" cy="417.7" rx="3.9" ry="2.9" fill="url(#l2)"/>
<ellipse cx="204.9" cy="424.9" rx="3.9" ry="2.9" fill="url(#l2)"/>
<ellipse cx="204.9" cy="432.2" rx="3.9" ry="2.9" fill="url(#l4)"/>
<ellipse cx="204.9" cy="439.6" rx="3.9" ry="2.9" fill="url(#l3)"/>
<ellipse cx="204.9" cy="446.9" rx="3.9" ry="2.9" fill="url(#l3)"/>
<ellipse cx="204.9" cy="454.1" rx="3.9" ry="2.9" fill="url(#l3)"/>
<ellipse cx="204.9" cy="461.4" rx="3.9" ry="2.9" fill="url(#l3)"/>
<ellipse cx="204.9" cy="468.8" rx="3.9" ry="2.9" fill="url(#l2)"/>
<rect x="208.6" y="384.8" width="7.4" height="87.6" fill="#0212a0"/>
<ellipse cx="212.3" cy="388.4" rx="3.9" ry="2.0" fill="url(#l1)"/>
<ellipse cx="212.3" cy="395.8" rx="3.9" ry="2.0" fill="url(#l2)"/>
<ellipse cx="212.3" cy="403.1" rx="3.9" ry="2.0" fill="url(#l1)"/>
<ellipse cx="212.3" cy="410.4" rx="3.9" ry="2.0" fill="url(#l1)"/>
<ellipse cx="212.3" cy="417.7" rx="3.9" ry="2.0" fill="url(#l1)"/>
<ellipse cx="212.3" cy="424.9" rx="3.9" ry="2.0" fill="url(#l1)"/>
<ellipse cx="212.3" cy="432.2" rx="3.9" ry="2.0" fill="url(#l2)"/>
<ellipse cx="212.3" cy="439.6" rx="3.9" ry="2.0" fill="url(#l2)"/>
<ellipse cx="212.3" cy="446.9" rx="3.9" ry="2.0" fill="url(#l3)"/>
<ellipse cx="212.3" cy="454.1" rx="3.9" ry="2.0" fill="url(#l2)"/>
<ellipse cx="212.3" cy="461.4" rx="3.9" ry="2.0" fill="url(#l1)"/>
<ellipse cx="212.3" cy="468.8" rx="3.9" ry="2.0" fill="url(#l1)"/>
<rect x="216.1" y="384.8" width="7.4" height="87.6" fill="#0212a0"/>
<ellipse cx="219.8" cy="388.4" rx="2.4" ry="3.4" fill="url(#l1)"/>
<ellipse cx="219.8" cy="395.8" rx="2.4" ry="3.4" fill="url(#l1)"/>
<ellipse cx="219.8" cy="403.1" rx="2.4" ry="3.4" fill="url(#l1)"/>
<ellipse cx="219.8" cy="410.4" rx="2.4" ry="3.4" fill="url(#l2)"/>
<ellipse cx="219.8" cy="417.7" rx="2.4" ry="3.4" fill="url(#l4)"/>
<ellipse cx="219.8" cy="424.9" rx="2.4" ry="3.4" fill="url(#l2)"/>
<ellipse cx="219.8" cy="432.2" rx="2.4" ry="3.4" fill="url(#l2)"/>
<ellipse cx="219.8" cy="439.6" rx="2.4" ry="3.4" fill="url(#l3)"/>
<ellipse cx="219.8" cy="446.9" rx="2.4" ry="3.4" fill="url(#l1)"/>
<ellipse cx="219.8" cy="454.1" rx="2.4" ry="3.4" fill="url(#l1)"/>
<ellipse cx="219.8" cy="461.4" rx="2.4" ry="3.4" fill="url(#l2)"/>
<ellipse cx="219.8" cy="468.8" rx="2.4" ry="3.4" fill="url(#l1)"/>
<rect x="223.5" y="384.8" width="7.4" height="87.6" fill="#0212a0"/>
<ellipse cx="227.2" cy="388.4" rx="3.0" ry="2.9" fill="url(#l2)"/>
<ellipse cx="227.2" cy="395.8" rx="3.0" ry="2.9" fill="url(#l3)"/>
<ellipse cx="227.2" cy="403.1" rx="3.0" ry="2.9" fill="url(#l2)"/>
<ellipse cx="227.2" cy="410.4" rx="3.0" ry="2.9" fill="url(#l1)"/>
<ellipse cx="227.2" cy="417.7" rx="3.0" ry="2.9" fill="url(#l1)"/>
<ellipse cx="227.2" cy="424.9" rx="3.0" ry="2.9" fill="url(#l2)"/>
<ellipse cx="227.2" cy="432.2" rx="3.0" ry="2.9" fill="url(#l2)"/>
<ellipse cx="227.2" cy="439.6" rx="3.0" ry="2.9" fill="url(#l2)"/>
<ellipse cx="227.2" cy="446.9" rx="3.0" ry="2.9" fill="url(#l3)"/>
<ellipse cx="227.2" cy="454.1" rx="3.0" ry="2.9" fill="url(#l3)"/>
<ellipse cx="227.2" cy="461.4" rx="3.0" ry="2.9" fill="url(#l3)"/>
<ellipse cx="227.2" cy="468.8" rx="3.0" ry="2.9" fill="url(#l3)"/>
<rect x="230.9" y="384.8" width="7.4" height="87.6" fill="#0212a0"/>
<ellipse cx="234.6" cy="388.4" rx="2.4" ry="3.4" fill="url(#l3)"/>
<ellipse cx="234.6" cy="395.8" rx="2.4" ry="3.4" fill="url(#l3)"/>
<ellipse cx="234.6" cy="403.1" rx="2.4" ry="3.4" fill="url(#l2)"/>
<ellipse cx="234.6" cy="410.4" rx="2.4" ry="3.4" fill="url(#l2)"/>
<ellipse cx="234.6" cy="417.7" rx="2.4" ry="3.4" fill="url(#l2)"/>
<ellipse cx="234.6" cy="424.9" rx="2.4" ry="3.4" fill="url(#l1)"/>
<ellipse cx="234.6" cy="432.2" rx="2.4" ry="3.4" fill="url(#l3)"/>
<ellipse cx="234.6" cy="439.6" rx="2.4" ry="3.4" fill="url(#l3)"/>
<ellipse cx="234.6" cy="446.9" rx="2.4" ry="3.4" fill="url(#l4)"/>
<ellipse cx="234.6" cy="454.1" rx="2.4" ry="3.4" fill="url(#l3)"/>
<ellipse cx="234.6" cy="461.4" rx="2.4" ry="3.4" fill="url(#l3)"/>
<ellipse cx="234.6" cy="468.8" rx="2.4" ry="3.4" fill="url(#l3)"/>
<rect x="238.4" y="384.8" width="7.4" height="87.6" fill="#0212a0"/>
<ellipse cx="242.1" cy="388.4" rx="3.0" ry="2.9" fill="url(#l2)"/>
<ellipse cx="242.1" cy="395.8" rx="3.0" ry="2.9" fill="url(#l1)"/>
<ellipse cx="242.1" cy="403.1" rx="3.0" ry="2.9" fill="url(#l1)"/>
<ellipse cx="242.1" cy="410.4" rx="3.0" ry="2.9" fill="url(#l1)"/>
<ellipse cx="242.1" cy="417.7" rx="3.0" ry="2.9" fill="url(#l1)"/>
<ellipse cx="242.1" cy="424.9" rx="3.0" ry="2.9" fill="url(#l1)"/>
<ellipse cx="242.1" cy="432.2" rx="3.0" ry="2.9" fill="url(#l3)"/>
<ellipse cx="242.1" cy="439.6" rx="3.0" ry="2.9" fill="url(#l1)"/>
<ellipse cx="242.1" cy="446.9" rx="3.0" ry="2.9" fill="url(#l3)"/>
<ellipse cx="242.1" cy="454.1" rx="3.0" ry="2.9" fill="url(#l3)"/>
<ellipse cx="242.1" cy="461.4" rx="3.0" ry="2.9" fill="url(#l1)"/>
<ellipse cx="242.1" cy="468.8" rx="3.0" ry="2.9" fill="url(#l1)"/>
<rect x="245.8" y="384.8" width="7.4" height="87.6" fill="#0212a0"/>
<ellipse cx="249.5" cy="388.8" rx="3.6" ry="3.4" fill="url(#l2)" opacity="0.6"/>
<polygon points="246.3,390.8 249.5,385.6 252.7,390.8" fill="#90f4ff" opacity="0.4"/>
<line x1="246.3" y1="390.9" x2="252.7" y2="390.9" stroke="#e8ffff" stroke-width="0.7"/>
<ellipse cx="249.5" cy="396.1" rx="3.6" ry="3.4" fill="url(#l3)" opacity="0.6"/>
<polygon points="246.3,398.1 249.5,392.9 252.7,398.1" fill="#90f4ff" opacity="0.4"/>
<line x1="246.3" y1="398.2" x2="252.7" y2="398.2" stroke="#e8ffff" stroke-width="0.7"/>
<ellipse cx="249.5" cy="396.1" rx="1.2" ry="1.1" fill="#ffff60"/>
<ellipse cx="249.5" cy="403.4" rx="3.6" ry="3.4" fill="url(#l2)" opacity="0.6"/>
<polygon points="246.3,405.4 249.5,400.2 252.7,405.4" fill="#90f4ff" opacity="0.4"/>
<line x1="246.3" y1="405.6" x2="252.7" y2="405.6" stroke="#e8ffff" stroke-width="0.7"/>
<ellipse cx="249.5" cy="410.7" rx="3.6" ry="3.4" fill="url(#l2)" opacity="0.6"/>
<polygon points="246.3,412.7 249.5,407.5 252.7,412.7" fill="#90f4ff" opacity="0.4"/>
<line x1="246.3" y1="412.9" x2="252.7" y2="412.9" stroke="#e8ffff" stroke-width="0.7"/>
<ellipse cx="249.5" cy="418.0" rx="3.6" ry="3.4" fill="url(#l2)" opacity="0.6"/>
<polygon points="246.3,420.0 249.5,414.8 252.7,420.0" fill="#90f4ff" opacity="0.4"/>
<line x1="246.3" y1="420.2" x2="252.7" y2="420.2" stroke="#e8ffff" stroke-width="0.7"/>
<ellipse cx="249.5" cy="425.2" rx="3.6" ry="3.4" fill="url(#l2)" opacity="0.6"/>
<polygon points="246.3,427.2 249.5,422.1 252.7,427.2" fill="#90f4ff" opacity="0.4"/>
<line x1="246.3" y1="427.4" x2="252.7" y2="427.4" stroke="#e8ffff" stroke-width="0.7"/>
<ellipse cx="249.5" cy="432.6" rx="3.6" ry="3.4" fill="url(#l2)" opacity="0.6"/>
<polygon points="246.3,434.6 249.5,429.4 252.7,434.6" fill="#90f4ff" opacity="0.4"/>
<line x1="246.3" y1="434.8" x2="252.7" y2="434.8" stroke="#e8ffff" stroke-width="0.7"/>
<ellipse cx="249.5" cy="439.9" rx="3.6" ry="3.4" fill="url(#l2)" opacity="0.6"/>
<polygon points="246.3,441.9 249.5,436.7 252.7,441.9" fill="#90f4ff" opacity="0.4"/>
<line x1="246.3" y1="442.1" x2="252.7" y2="442.1" stroke="#e8ffff" stroke-width="0.7"/>
<ellipse cx="249.5" cy="447.2" rx="3.6" ry="3.4" fill="url(#l3)" opacity="0.6"/>
<polygon points="246.3,449.2 249.5,444.0 252.7,449.2" fill="#90f4ff" opacity="0.4"/>
<line x1="246.3" y1="449.4" x2="252.7" y2="449.4" stroke="#e8ffff" stroke-width="0.7"/>
<ellipse cx="249.5" cy="447.2" rx="1.2" ry="1.1" fill="#ffff60"/>
<ellipse cx="249.5" cy="454.4" rx="3.6" ry="3.4" fill="url(#l2)" opacity="0.6"/>
<polygon points="246.3,456.4 249.5,451.2 252.7,456.4" fill="#90f4ff" opacity="0.4"/>
<line x1="246.3" y1="456.6" x2="252.7" y2="456.6" stroke="#e8ffff" stroke-width="0.7"/>
<ellipse cx="249.5" cy="461.8" rx="3.6" ry="3.4" fill="url(#l3)" opacity="0.6"/>
<polygon points="246.3,463.8 249.5,458.6 252.7,463.8" fill="#90f4ff" opacity="0.4"/>
<line x1="246.3" y1="463.9" x2="252.7" y2="463.9" stroke="#e8ffff" stroke-width="0.7"/>
<ellipse cx="249.5" cy="461.8" rx="1.2" ry="1.1" fill="#ffff60"/>
<ellipse cx="249.5" cy="469.1" rx="3.6" ry="3.4" fill="url(#l2)" opacity="0.6"/>
<polygon points="246.3,471.1 249.5,465.9 252.7,471.1" fill="#90f4ff" opacity="0.4"/>
<line x1="246.3" y1="471.2" x2="252.7" y2="471.2" stroke="#e8ffff" stroke-width="0.7"/>
<rect x="253.2" y="384.8" width="7.4" height="87.6" fill="#000018"/>
<ellipse cx="256.9" cy="388.4" rx="2.4" ry="2.3" fill="url(#l2)"/>
<ellipse cx="256.9" cy="395.8" rx="2.4" ry="2.3" fill="url(#l2)"/>
<ellipse cx="256.9" cy="403.1" rx="2.4" ry="2.3" fill="url(#l2)"/>
<ellipse cx="256.9" cy="410.4" rx="2.4" ry="2.3" fill="url(#l1)"/>
<ellipse cx="256.9" cy="417.7" rx="2.4" ry="2.3" fill="url(#l1)"/>
<ellipse cx="256.9" cy="424.9" rx="2.4" ry="2.3" fill="url(#l1)"/>
<ellipse cx="256.9" cy="432.2" rx="2.4" ry="2.3" fill="url(#l3)"/>
<ellipse cx="256.9" cy="439.6" rx="2.4" ry="2.3" fill="url(#l3)"/>
<ellipse cx="256.9" cy="446.9" rx="2.4" ry="2.3" fill="url(#l2)"/>
<ellipse cx="256.9" cy="454.1" rx="2.4" ry="2.3" fill="url(#l2)"/>
<ellipse cx="256.9" cy="461.4" rx="2.4" ry="2.3" fill="url(#l2)"/>
<ellipse cx="256.9" cy="468.8" rx="2.4" ry="2.3" fill="url(#l2)"/>
<rect x="260.6" y="384.8" width="7.4" height="87.6" fill="#0212a0"/>
<ellipse cx="264.4" cy="388.4" rx="3.9" ry="2.9" fill="url(#l3)"/>
<ellipse cx="264.4" cy="395.8" rx="3.9" ry="2.9" fill="url(#l4)"/>
<ellipse cx="264.4" cy="403.1" rx="3.9" ry="2.9" fill="url(#l3)"/>
<ellipse cx="264.4" cy="410.4" rx="3.9" ry="2.9" fill="url(#l3)"/>
<ellipse cx="264.4" cy="417.7" rx="3.9" ry="2.9" fill="url(#l3)"/>
<ellipse cx="264.4" cy="424.9" rx="3.9" ry="2.9" fill="url(#l3)"/>
<ellipse cx="264.4" cy="432.2" rx="3.9" ry="2.9" fill="url(#l3)"/>
<ellipse cx="264.4" cy="439.6" rx="3.9" ry="2.9" fill="url(#l3)"/>
<ellipse cx="264.4" cy="446.9" rx="3.9" ry="2.9" fill="url(#l4)"/>
<ellipse cx="264.4" cy="454.1" rx="3.9" ry="2.9" fill="url(#l3)"/>
<ellipse cx="264.4" cy="461.4" rx="3.9" ry="2.9" fill="url(#l4)"/>
<ellipse cx="264.4" cy="468.8" rx="3.9" ry="2.9" fill="url(#l3)"/>
<rect x="268.1" y="384.8" width="7.4" height="87.6" fill="#0212a0"/>
<ellipse cx="271.8" cy="388.4" rx="3.9" ry="2.0" fill="url(#l1)"/>
<ellipse cx="271.8" cy="395.8" rx="3.9" ry="2.0" fill="url(#l3)"/>
<ellipse cx="271.8" cy="403.1" rx="3.9" ry="2.0" fill="url(#l1)"/>
<ellipse cx="271.8" cy="410.4" rx="3.9" ry="2.0" fill="url(#l0)"/>
<ellipse cx="271.8" cy="417.7" rx="3.9" ry="2.0" fill="url(#l0)"/>
<ellipse cx="271.8" cy="424.9" rx="3.9" ry="2.0" fill="url(#l1)"/>
<ellipse cx="271.8" cy="432.2" rx="3.9" ry="2.0" fill="url(#l0)"/>
<ellipse cx="271.8" cy="439.6" rx="3.9" ry="2.0" fill="url(#l0)"/>
<ellipse cx="271.8" cy="446.9" rx="3.9" ry="2.0" fill="url(#l1)"/>
<ellipse cx="271.8" cy="454.1" rx="3.9" ry="2.0" fill="url(#l1)"/>
<ellipse cx="271.8" cy="461.4" rx="3.9" ry="2.0" fill="url(#l3)"/>
<ellipse cx="271.8" cy="468.8" rx="3.9" ry="2.0" fill="url(#l3)"/>
<rect x="275.5" y="384.8" width="7.4" height="87.6" fill="#0212a0"/>
<ellipse cx="279.2" cy="388.4" rx="3.9" ry="2.0" fill="url(#l2)"/>
<ellipse cx="279.2" cy="395.8" rx="3.9" ry="2.0" fill="url(#l2)"/>
<ellipse cx="279.2" cy="403.1" rx="3.9" ry="2.0" fill="url(#l3)"/>
<ellipse cx="279.2" cy="410.4" rx="3.9" ry="2.0" fill="url(#l2)"/>
<ellipse cx="279.2" cy="417.7" rx="3.9" ry="2.0" fill="url(#l2)"/>
<ellipse cx="279.2" cy="424.9" rx="3.9" ry="2.0" fill="url(#l2)"/>
<ellipse cx="279.2" cy="432.2" rx="3.9" ry="2.0" fill="url(#l4)"/>
<ellipse cx="279.2" cy="439.6" rx="3.9" ry="2.0" fill="url(#l2)"/>
<ellipse cx="279.2" cy="446.9" rx="3.9" ry="2.0" fill="url(#l4)"/>
<ellipse cx="279.2" cy="454.1" rx="3.9" ry="2.0" fill="url(#l3)"/>
<ellipse cx="279.2" cy="461.4" rx="3.9" ry="2.0" fill="url(#l2)"/>
<ellipse cx="279.2" cy="468.8" rx="3.9" ry="2.0" fill="url(#l2)"/>
<rect x="282.9" y="384.8" width="7.4" height="87.6" fill="#0212a0"/>
<ellipse cx="286.7" cy="388.4" rx="2.4" ry="3.4" fill="url(#l1)"/>
<ellipse cx="286.7" cy="395.8" rx="2.4" ry="3.4" fill="url(#l1)"/>
<ellipse cx="286.7" cy="403.1" rx="2.4" ry="3.4" fill="url(#l2)"/>
<ellipse cx="286.7" cy="410.4" rx="2.4" ry="3.4" fill="url(#l2)"/>
<ellipse cx="286.7" cy="417.7" rx="2.4" ry="3.4" fill="url(#l2)"/>
<ellipse cx="286.7" cy="424.9" rx="2.4" ry="3.4" fill="url(#l1)"/>
<ellipse cx="286.7" cy="432.2" rx="2.4" ry="3.4" fill="url(#l2)"/>
<ellipse cx="286.7" cy="439.6" rx="2.4" ry="3.4" fill="url(#l2)"/>
<ellipse cx="286.7" cy="446.9" rx="2.4" ry="3.4" fill="url(#l4)"/>
<ellipse cx="286.7" cy="454.1" rx="2.4" ry="3.4" fill="url(#l3)"/>
<ellipse cx="286.7" cy="461.4" rx="2.4" ry="3.4" fill="url(#l2)"/>
<ellipse cx="286.7" cy="468.8" rx="2.4" ry="3.4" fill="url(#l2)"/>
<rect x="290.4" y="384.8" width="7.4" height="87.6" fill="#0212a0"/>
<ellipse cx="294.1" cy="388.4" rx="3.9" ry="2.9" fill="url(#l2)"/>
<ellipse cx="294.1" cy="395.8" rx="3.9" ry="2.9" fill="url(#l2)"/>
<ellipse cx="294.1" cy="403.1" rx="3.9" ry="2.9" fill="url(#l4)"/>
<ellipse cx="294.1" cy="410.4" rx="3.9" ry="2.9" fill="url(#l2)"/>
<ellipse cx="294.1" cy="417.7" rx="3.9" ry="2.9" fill="url(#l2)"/>
<ellipse cx="294.1" cy="424.9" rx="3.9" ry="2.9" fill="url(#l2)"/>
<ellipse cx="294.1" cy="432.2" rx="3.9" ry="2.9" fill="url(#l3)"/>
<ellipse cx="294.1" cy="439.6" rx="3.9" ry="2.9" fill="url(#l3)"/>
<ellipse cx="294.1" cy="446.9" rx="3.9" ry="2.9" fill="url(#l2)"/>
<ellipse cx="294.1" cy="454.1" rx="3.9" ry="2.9" fill="url(#l2)"/>
<ellipse cx="294.1" cy="461.4" rx="3.9" ry="2.9" fill="url(#l2)"/>
<ellipse cx="294.1" cy="468.8" rx="3.9" ry="2.9" fill="url(#l2)"/>
<rect x="297.8" y="384.8" width="7.4" height="87.6" fill="#000018"/>
<ellipse cx="301.5" cy="388.4" rx="2.4" ry="2.3" fill="url(#l1)"/>
<ellipse cx="301.5" cy="395.8" rx="2.4" ry="2.3" fill="url(#l1)"/>
<ellipse cx="301.5" cy="403.1" rx="2.4" ry="2.3" fill="url(#l2)"/>
<ellipse cx="301.5" cy="410.4" rx="2.4" ry="2.3" fill="url(#l1)"/>
<ellipse cx="301.5" cy="417.7" rx="2.4" ry="2.3" fill="url(#l1)"/>
<ellipse cx="301.5" cy="424.9" rx="2.4" ry="2.3" fill="url(#l1)"/>
<ellipse cx="301.5" cy="432.2" rx="2.4" ry="2.3" fill="url(#l3)"/>
<ellipse cx="301.5" cy="439.6" rx="2.4" ry="2.3" fill="url(#l2)"/>
<ellipse cx="301.5" cy="446.9" rx="2.4" ry="2.3" fill="url(#l2)"/>
<ellipse cx="301.5" cy="454.1" rx="2.4" ry="2.3" fill="url(#l2)"/>
<ellipse cx="301.5" cy="461.4" rx="2.4" ry="2.3" fill="url(#l1)"/>
<ellipse cx="301.5" cy="468.8" rx="2.4" ry="2.3" fill="url(#l1)"/>
<rect x="305.2" y="384.8" width="6.3" height="87.6" fill="#0c40e8"/>
<rect x="305.9" y="384.8" width="6" height="87.6" fill="#2090ff" opacity="0.9"/>
<rect x="309.3" y="442.2" width="0.8" height="0.6" fill="#40d8ff" opacity="0.85"/>
<rect x="306.9" y="428.8" width="1.1" height="0.9" fill="#40d8ff" opacity="0.85"/>
<rect x="310.0" y="412.3" width="1.0" height="1.1" fill="#80f4ff" opacity="0.85"/>
<rect x="310.6" y="459.3" width="0.7" height="1.0" fill="#40d8ff" opacity="0.85"/>
<rect x="310.6" y="405.8" width="0.9" height="0.6" fill="#c0ffff" opacity="0.85"/>
<rect x="306.2" y="454.4" width="0.8" height="0.6" fill="#80f4ff" opacity="0.85"/>
<rect x="306.0" y="404.3" width="1.5" height="0.8" fill="#80f4ff" opacity="0.85"/>
<rect x="309.6" y="417.2" width="1.2" height="0.8" fill="#80f4ff" opacity="0.85"/>
<rect x="310.1" y="426.4" width="1.6" height="0.8" fill="#c0ffff" opacity="0.85"/>
<rect x="306.3" y="446.6" width="0.8" height="0.7" fill="#2aa0ff" opacity="0.85"/>
<rect x="309.7" y="449.7" width="0.8" height="1.2" fill="#2aa0ff" opacity="0.85"/>
<rect x="306.5" y="428.1" width="0.7" height="0.7" fill="#c0ffff" opacity="0.85"/>
<rect x="306.0" y="425.0" width="0.7" height="0.5" fill="#40d8ff" opacity="0.85"/>
<rect x="306.2" y="415.3" width="1.5" height="0.5" fill="#80f4ff" opacity="0.85"/>
<rect x="309.2" y="460.5" width="0.7" height="0.9" fill="#40d8ff" opacity="0.85"/>
<rect x="308.9" y="425.3" width="1.2" height="0.5" fill="#40d8ff" opacity="0.85"/>
<rect x="309.0" y="460.6" width="0.8" height="1.2" fill="#80f4ff" opacity="0.85"/>
<rect x="310.0" y="404.0" width="0.6" height="1.2" fill="#2aa0ff" opacity="0.85"/>
<rect x="306.7" y="410.5" width="0.9" height="0.8" fill="#c0ffff" opacity="0.85"/>
<rect x="308.4" y="415.1" width="1.5" height="1.1" fill="#2aa0ff" opacity="0.85"/>
<rect x="307.0" y="426.6" width="0.7" height="1.1" fill="#c0ffff" opacity="0.85"/>
<rect x="306.2" y="454.9" width="1.0" height="0.7" fill="#40d8ff" opacity="0.85"/>
<rect x="310.4" y="453.9" width="1.3" height="1.1" fill="#c0ffff" opacity="0.85"/>
<rect x="307.6" y="419.6" width="1.2" height="0.8" fill="#40d8ff" opacity="0.85"/>
<rect x="307.2" y="390.0" width="0.8" height="0.7" fill="#80f4ff" opacity="0.85"/>
<rect x="309.4" y="385.3" width="1.1" height="0.6" fill="#80f4ff" opacity="0.85"/>
<rect x="310.8" y="408.2" width="1.4" height="1.1" fill="#80f4ff" opacity="0.85"/>
<rect x="307.8" y="446.9" width="1.6" height="1.1" fill="#40d8ff" opacity="0.85"/>
<rect x="307.9" y="445.2" width="0.8" height="0.9" fill="#c0ffff" opacity="0.85"/>
<rect x="306.4" y="440.5" width="1.1" height="1.0" fill="#80f4ff" opacity="0.85"/>
<rect x="306.9" y="461.3" width="1.1" height="0.6" fill="#c0ffff" opacity="0.85"/>
<rect x="307.2" y="441.0" width="1.0" height="0.8" fill="#c0ffff" opacity="0.85"/>
<rect x="309.4" y="402.1" width="1.1" height="0.9" fill="#80f4ff" opacity="0.85"/>
<rect x="306.4" y="385.6" width="1.5" height="0.7" fill="#c0ffff" opacity="0.85"/>
<rect x="307.8" y="385.5" width="1.5" height="1.2" fill="#2aa0ff" opacity="0.85"/>
<rect x="308.9" y="415.7" width="1.2" height="0.6" fill="#2aa0ff" opacity="0.85"/>
<rect x="307.2" y="467.4" width="1.4" height="1.1" fill="#2aa0ff" opacity="0.85"/>
<rect x="307.3" y="391.3" width="1.5" height="0.5" fill="#2aa0ff" opacity="0.85"/>
<rect x="306.0" y="401.2" width="1.5" height="0.7" fill="#2aa0ff" opacity="0.85"/>
<rect x="308.4" y="408.7" width="1.4" height="0.5" fill="#2aa0ff" opacity="0.85"/>
<rect x="306.8" y="449.8" width="0.9" height="0.6" fill="#40d8ff" opacity="0.85"/>
<rect x="307.3" y="418.3" width="1.3" height="0.5" fill="#40d8ff" opacity="0.85"/>
<rect x="306.3" y="402.5" width="1.4" height="1.0" fill="#c0ffff" opacity="0.85"/>
<rect x="306.9" y="451.4" width="1.3" height="0.9" fill="#c0ffff" opacity="0.85"/>
<rect x="308.0" y="417.4" width="1.6" height="0.6" fill="#80f4ff" opacity="0.85"/>
<rect x="311.0" y="464.5" width="1.4" height="0.7" fill="#80f4ff" opacity="0.85"/>
<rect x="307.7" y="466.5" width="0.8" height="0.7" fill="#40d8ff" opacity="0.85"/>
<rect x="309.7" y="454.1" width="1.6" height="1.2" fill="#2aa0ff" opacity="0.85"/>
<rect x="309.9" y="451.5" width="1.2" height="0.7" fill="#40d8ff" opacity="0.85"/>
<rect x="306.0" y="469.2" width="1.0" height="0.6" fill="#40d8ff" opacity="0.85"/>
<rect x="306.5" y="399.1" width="1.2" height="1.0" fill="#2aa0ff" opacity="0.85"/>
<rect x="306.6" y="407.5" width="1.1" height="0.6" fill="#40d8ff" opacity="0.85"/>
<rect x="309.8" y="446.7" width="1.0" height="0.8" fill="#2aa0ff" opacity="0.85"/>
<rect x="308.4" y="416.9" width="1.3" height="0.6" fill="#80f4ff" opacity="0.85"/>
<rect x="307.3" y="440.7" width="0.8" height="0.7" fill="#2aa0ff" opacity="0.85"/>
<rect x="306.3" y="429.2" width="1.6" height="1.1" fill="#2aa0ff" opacity="0.85"/>
<rect x="309.5" y="436.0" width="1.6" height="1.0" fill="#80f4ff" opacity="0.85"/>
<rect x="307.3" y="409.6" width="1.6" height="0.7" fill="#2aa0ff" opacity="0.85"/>
<rect x="307.7" y="465.7" width="1.3" height="1.0" fill="#80f4ff" opacity="0.85"/>
<rect x="308.8" y="445.9" width="1.2" height="0.7" fill="#c0ffff" opacity="0.85"/>
<rect x="310.0" y="459.6" width="1.2" height="1.0" fill="#40d8ff" opacity="0.85"/>
<rect x="307.1" y="389.6" width="1.0" height="0.7" fill="#2aa0ff" opacity="0.85"/>
<rect x="311.0" y="389.8" width="0.9" height="0.9" fill="#2aa0ff" opacity="0.85"/>
<rect x="308.9" y="461.2" width="1.1" height="1.0" fill="#c0ffff" opacity="0.85"/>
<rect x="307.9" y="469.1" width="0.8" height="0.9" fill="#80f4ff" opacity="0.85"/>
<rect x="308.2" y="389.5" width="1.3" height="1.0" fill="#40d8ff" opacity="0.85"/>
<rect x="306.1" y="464.6" width="1.2" height="1.1" fill="#80f4ff" opacity="0.85"/>
<rect x="308.2" y="457.8" width="0.9" height="0.8" fill="#c0ffff" opacity="0.85"/>
<rect x="307.0" y="452.9" width="1.5" height="0.9" fill="#2aa0ff" opacity="0.85"/>
<rect x="310.5" y="460.9" width="0.7" height="1.0" fill="#80f4ff" opacity="0.85"/>
<ellipse cx="308.9" cy="388.4" rx="2.4" ry="3.4" fill="url(#l3)"/>
<ellipse cx="308.9" cy="395.8" rx="2.4" ry="3.4" fill="url(#l3)"/>
<ellipse cx="308.9" cy="403.1" rx="2.4" ry="3.4" fill="url(#l3)"/>
<ellipse cx="308.9" cy="410.4" rx="2.4" ry="3.4" fill="url(#l3)"/>
<ellipse cx="308.9" cy="417.7" rx="2.4" ry="3.4" fill="url(#l3)"/>
<ellipse cx="308.9" cy="424.9" rx="2.4" ry="3.4" fill="url(#l3)"/>
<ellipse cx="308.9" cy="432.2" rx="2.4" ry="3.4" fill="url(#l3)"/>
<ellipse cx="308.9" cy="439.6" rx="2.4" ry="3.4" fill="url(#l3)"/>
<ellipse cx="308.9" cy="446.9" rx="2.4" ry="3.4" fill="url(#l3)"/>
<ellipse cx="308.9" cy="454.1" rx="2.4" ry="3.4" fill="url(#l3)"/>
<ellipse cx="308.9" cy="461.4" rx="2.4" ry="3.4" fill="url(#l3)"/>
<ellipse cx="308.9" cy="468.8" rx="2.4" ry="3.4" fill="url(#l3)"/>
<rect x="165.2" y="400.2" width="5.2" height="5.6" rx="1" fill="#f8e860"/>
<rect x="166.2" y="401.2" width="3.2" height="3.8" fill="#ff6010"/>
<rect x="166.9" y="401.9" width="1.8" height="2.4" fill="#e01000"/>
<rect x="129.0" y="400.1" width="3.2" height="6" fill="#fffff0"/>
<rect x="129.8" y="401.6" width="1.6" height="3" fill="#ffe060"/>
<rect x="29.9" y="384.8" width="0.9" height="87.6" fill="#000838" opacity="0.55"/>
<rect x="37.3" y="384.8" width="0.9" height="87.6" fill="#000838" opacity="0.55"/>
<rect x="44.7" y="384.8" width="0.9" height="87.6" fill="#000838" opacity="0.55"/>
<rect x="52.2" y="384.8" width="0.9" height="87.6" fill="#000838" opacity="0.55"/>
<rect x="59.6" y="384.8" width="0.9" height="87.6" fill="#000838" opacity="0.55"/>
<rect x="67.0" y="384.8" width="0.9" height="87.6" fill="#000838" opacity="0.55"/>
<rect x="74.4" y="384.8" width="0.9" height="87.6" fill="#000838" opacity="0.55"/>
<rect x="81.9" y="384.8" width="0.9" height="87.6" fill="#000838" opacity="0.55"/>
<rect x="89.3" y="384.8" width="0.9" height="87.6" fill="#000838" opacity="0.55"/>
<rect x="96.7" y="384.8" width="0.9" height="87.6" fill="#000838" opacity="0.55"/>
<rect x="104.2" y="384.8" width="0.9" height="87.6" fill="#000838" opacity="0.55"/>
<rect x="111.6" y="384.8" width="0.9" height="87.6" fill="#000838" opacity="0.55"/>
<rect x="119.0" y="384.8" width="0.9" height="87.6" fill="#000838" opacity="0.55"/>
<rect x="126.5" y="384.8" width="0.9" height="87.6" fill="#000838" opacity="0.55"/>
<rect x="133.9" y="384.8" width="0.9" height="87.6" fill="#000838" opacity="0.55"/>
<rect x="141.3" y="384.8" width="0.9" height="87.6" fill="#000838" opacity="0.55"/>
<rect x="148.7" y="384.8" width="0.9" height="87.6" fill="#000838" opacity="0.55"/>
<rect x="156.2" y="384.8" width="0.9" height="87.6" fill="#000838" opacity="0.55"/>
<rect x="163.6" y="384.8" width="0.9" height="87.6" fill="#000838" opacity="0.55"/>
<rect x="171.0" y="384.8" width="0.9" height="87.6" fill="#000838" opacity="0.55"/>
<rect x="178.5" y="384.8" width="0.9" height="87.6" fill="#000838" opacity="0.55"/>
<rect x="185.9" y="384.8" width="0.9" height="87.6" fill="#000838" opacity="0.55"/>
<rect x="193.3" y="384.8" width="0.9" height="87.6" fill="#000838" opacity="0.55"/>
<rect x="200.8" y="384.8" width="0.9" height="87.6" fill="#000838" opacity="0.55"/>
<rect x="208.2" y="384.8" width="0.9" height="87.6" fill="#000838" opacity="0.55"/>
<rect x="215.6" y="384.8" width="0.9" height="87.6" fill="#000838" opacity="0.55"/>
<rect x="223.0" y="384.8" width="0.9" height="87.6" fill="#000838" opacity="0.55"/>
<rect x="230.5" y="384.8" width="0.9" height="87.6" fill="#000838" opacity="0.55"/>
<rect x="237.9" y="384.8" width="0.9" height="87.6" fill="#000838" opacity="0.55"/>
<rect x="245.3" y="384.8" width="0.9" height="87.6" fill="#000838" opacity="0.55"/>
<rect x="252.8" y="384.8" width="0.9" height="87.6" fill="#000838" opacity="0.55"/>
<rect x="260.2" y="384.8" width="0.9" height="87.6" fill="#000838" opacity="0.55"/>
<rect x="267.6" y="384.8" width="0.9" height="87.6" fill="#000838" opacity="0.55"/>
<rect x="275.1" y="384.8" width="0.9" height="87.6" fill="#000838" opacity="0.55"/>
<rect x="282.5" y="384.8" width="0.9" height="87.6" fill="#000838" opacity="0.55"/>
<rect x="289.9" y="384.8" width="0.9" height="87.6" fill="#000838" opacity="0.55"/>
<rect x="297.3" y="384.8" width="0.9" height="87.6" fill="#000838" opacity="0.55"/>
<rect x="304.8" y="384.8" width="0.9" height="87.6" fill="#000838" opacity="0.55"/>
<rect x="29.3" y="384.8" width="2.0" height="87.6" fill="#000010" opacity="0.9"/>
<rect x="37.0" y="384.8" width="1.4" height="87.6" fill="#000010" opacity="0.9"/>
<rect x="44.5" y="384.8" width="1.4" height="87.6" fill="#000010" opacity="0.9"/>
<rect x="51.9" y="384.8" width="1.4" height="87.6" fill="#000010" opacity="0.9"/>
<rect x="74.2" y="384.8" width="1.4" height="87.6" fill="#000010" opacity="0.9"/>
<rect x="118.8" y="384.8" width="1.4" height="87.6" fill="#000010" opacity="0.9"/>
<rect x="148.5" y="384.8" width="1.4" height="87.6" fill="#000010" opacity="0.9"/>
<rect x="185.6" y="384.8" width="1.4" height="87.6" fill="#000010" opacity="0.9"/>
<rect x="252.5" y="384.8" width="1.4" height="87.6" fill="#000010" opacity="0.9"/>
<rect x="297.1" y="384.8" width="1.4" height="87.6" fill="#000010" opacity="0.9"/>
<rect x="311.5" y="384.8" width="25.8" height="87.6" fill="#fff" stroke="#333" stroke-width="0.5"/>
<text x="313.1" y="394.3" class="b" font-size="6.2">YG</text>
<line x1="311.5" y1="399.4" x2="337.3" y2="399.4" stroke="#333" stroke-width="0.5"/>
<text x="313.1" y="408.9" class="b" font-size="6.2">NG46</text>
<line x1="311.5" y1="414.0" x2="337.3" y2="414.0" stroke="#333" stroke-width="0.5"/>
<text x="313.1" y="423.5" class="b" font-size="6.2">NG5055</text>
<line x1="311.5" y1="428.6" x2="337.3" y2="428.6" stroke="#333" stroke-width="0.5"/>
<text x="313.1" y="438.1" class="b" font-size="6.2">NG9108</text>
<line x1="311.5" y1="443.2" x2="337.3" y2="443.2" stroke="#333" stroke-width="0.5"/>
<text x="313.1" y="452.7" class="b" font-size="6.2">YN1</text>
<line x1="311.5" y1="457.8" x2="337.3" y2="457.8" stroke="#333" stroke-width="0.5"/>
<text x="313.1" y="467.3" class="b" font-size="6.2">WY3</text>
<text x="27.9" y="476" class="b" font-size="6.1" text-anchor="end" transform="rotate(-90 27.9 476)">Isopentanal</text>
<text x="35.3" y="476" class="b" font-size="6.1" text-anchor="end" transform="rotate(-90 35.3 476)">E-2-Pentenal</text>
<text x="42.8" y="476" class="b" font-size="6.1" text-anchor="end" transform="rotate(-90 42.8 476)">C-9 aldehyde</text>
<text x="50.2" y="476" class="b" font-size="6.1" text-anchor="end" transform="rotate(-90 50.2 476)">E-2-Heptenal-monomer</text>
<text x="57.6" y="476" class="b" font-size="6.1" text-anchor="end" transform="rotate(-90 57.6 476)">E-2-Heptenal-dimer</text>
<text x="65.0" y="476" class="b" font-size="6.1" text-anchor="end" transform="rotate(-90 65.0 476)">Phenylacetaldehyde</text>
<text x="72.5" y="476" class="b" font-size="6.1" text-anchor="end" transform="rotate(-90 72.5 476)">E-2-Hexenal</text>
<text x="79.9" y="476" class="b" font-size="6.1" text-anchor="end" transform="rotate(-90 79.9 476)">Heptanal-monomer</text>
<text x="87.3" y="476" class="b" font-size="6.1" text-anchor="end" transform="rotate(-90 87.3 476)">Heptanal-dimer</text>
<text x="94.8" y="476" class="b" font-size="6.1" text-anchor="end" transform="rotate(-90 94.8 476)">Benzaldehyde-monomer</text>
<text x="102.2" y="476" class="b" font-size="6.1" text-anchor="end" transform="rotate(-90 102.2 476)">Benzaldehyde-dimer</text>
<text x="109.6" y="476" class="b" font-size="6.1" text-anchor="end" transform="rotate(-90 109.6 476)">E-2-Octenal</text>
<text x="117.1" y="476" class="b" font-size="6.1" text-anchor="end" transform="rotate(-90 117.1 476)">Octanal</text>
<text x="124.5" y="476" class="b" font-size="6.1" text-anchor="end" transform="rotate(-90 124.5 476)">Pentanal</text>
<text x="131.9" y="476" class="b" font-size="6.1" text-anchor="end" transform="rotate(-90 131.9 476)">Furfural</text>
<text x="139.3" y="476" class="b" font-size="6.1" text-anchor="end" transform="rotate(-90 139.3 476)">2-Hexanol-monomer</text>
<text x="146.8" y="476" class="b" font-size="6.1" text-anchor="end" transform="rotate(-90 146.8 476)">2-Hexanol-dimer</text>
<text x="154.2" y="476" class="b" font-size="6.1" text-anchor="end" transform="rotate(-90 154.2 476)">E-2-Hexen-1-ol</text>
<text x="161.6" y="476" class="b" font-size="6.1" text-anchor="end" transform="rotate(-90 161.6 476)">2-Ethyl-1-hexanol</text>
<text x="169.1" y="476" class="b" font-size="6.1" text-anchor="end" transform="rotate(-90 169.1 476)">n-Hexanol</text>
<text x="176.5" y="476" class="b" font-size="6.1" text-anchor="end" transform="rotate(-90 176.5 476)">2-Methyl-1-propanol</text>
<text x="183.9" y="476" class="b" font-size="6.1" text-anchor="end" transform="rotate(-90 183.9 476)">2-Octanol</text>
<text x="191.4" y="476" class="b" font-size="6.1" text-anchor="end" transform="rotate(-90 191.4 476)">1-Propanol</text>
<text x="198.8" y="476" class="b" font-size="6.1" text-anchor="end" transform="rotate(-90 198.8 476)">1-Pentanol</text>
<text x="206.2" y="476" class="b" font-size="6.1" text-anchor="end" transform="rotate(-90 206.2 476)">1-Octen-3-ol</text>
<text x="213.7" y="476" class="b" font-size="6.1" text-anchor="end" transform="rotate(-90 213.7 476)">5-Methyl-2-furanmethanol</text>
<text x="221.1" y="476" class="b" font-size="6.1" text-anchor="end" transform="rotate(-90 221.1 476)">1-Heptanol</text>
<text x="228.5" y="476" class="b" font-size="6.1" text-anchor="end" transform="rotate(-90 228.5 476)">Cyclohexanone</text>
<text x="235.9" y="476" class="b" font-size="6.1" text-anchor="end" transform="rotate(-90 235.9 476)">2-Heptanone-monomer</text>
<text x="243.4" y="476" class="b" font-size="6.1" text-anchor="end" transform="rotate(-90 243.4 476)">2-Heptanone-dimer</text>
<text x="250.8" y="476" class="b" font-size="6.1" text-anchor="end" transform="rotate(-90 250.8 476)">Acetic acid butyl ester</text>
<text x="258.2" y="476" class="b" font-size="6.1" text-anchor="end" transform="rotate(-90 258.2 476)">n-Hexyl acetate</text>
<text x="265.7" y="476" class="b" font-size="6.1" text-anchor="end" transform="rotate(-90 265.7 476)">Methyl butyrate</text>
<text x="273.1" y="476" class="b" font-size="6.1" text-anchor="end" transform="rotate(-90 273.1 476)">Styrene</text>
<text x="280.5" y="476" class="b" font-size="6.1" text-anchor="end" transform="rotate(-90 280.5 476)">Propanoic acid</text>
<text x="288.0" y="476" class="b" font-size="6.1" text-anchor="end" transform="rotate(-90 288.0 476)">Ethylpyrazine</text>
<text x="295.4" y="476" class="b" font-size="6.1" text-anchor="end" transform="rotate(-90 295.4 476)">2-Ethylfuran</text>
<text x="302.8" y="476" class="b" font-size="6.1" text-anchor="end" transform="rotate(-90 302.8 476)">2-Pentylfuran</text>
<text x="310.2" y="476" class="b" font-size="6.1" text-anchor="end" transform="rotate(-90 310.2 476)">Dimethyl trisulfide</text>
</svg></body></html>
